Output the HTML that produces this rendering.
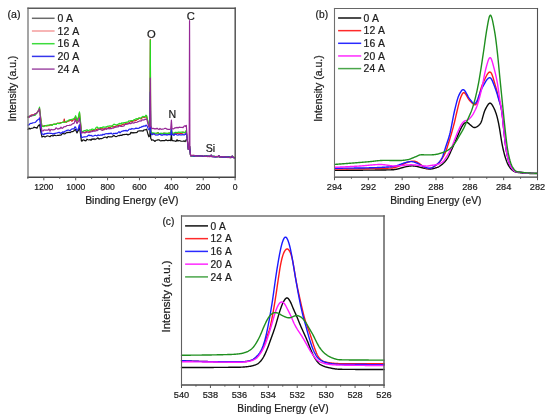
<!DOCTYPE html><html><head><meta charset="utf-8"><style>html,body{margin:0;padding:0;background:#fff}svg{display:block} text{stroke:#1c1c1c;stroke-width:0.22px}</style></head><body>
<svg width="550" height="415" viewBox="0 0 550 415" font-family="'Liberation Sans', Arial, sans-serif" fill="#1c1c1c">
<rect width="550" height="415" fill="#fff"/>
<polyline points="28.00,129.40 29.00,128.01 30.00,129.11 31.00,128.43 32.00,128.25 33.00,128.12 34.00,127.07 35.00,127.63 36.00,127.50 37.00,128.25 38.00,126.10 38.60,125.55 39.00,125.00 39.50,124.60 40.00,126.85 40.60,130.60 41.00,132.66 41.90,136.60 42.00,137.02 43.00,136.41 44.00,136.43 45.00,137.02 46.00,136.48 47.00,135.92 48.00,135.98 49.00,136.22 50.00,136.75 51.00,135.67 52.00,135.60 53.00,136.07 54.00,135.13 55.00,135.31 56.00,135.75 57.00,135.53 58.00,135.22 59.00,135.39 60.00,135.00 61.00,135.16 62.00,133.97 63.00,133.35 64.00,133.92 65.00,133.82 66.00,133.00 67.00,132.42 68.00,132.61 69.00,132.28 70.00,132.63 71.00,132.04 72.00,131.49 73.00,131.60 74.00,130.80 75.00,129.57 75.60,129.50 76.00,130.76 77.00,133.00 78.00,130.88 78.70,130.00 79.00,127.75 79.50,127.00 80.00,130.70 80.50,133.95 81.00,137.84 81.40,140.90 82.00,141.16 83.00,139.76 84.00,140.13 85.00,140.72 86.00,140.78 87.00,139.15 88.00,139.76 89.00,139.99 90.00,139.43 91.00,140.28 92.00,138.89 93.00,139.44 94.00,138.67 95.00,139.64 96.00,138.86 97.00,138.56 98.00,137.81 99.00,139.20 100.00,138.65 101.00,138.51 102.00,138.54 103.00,138.05 104.00,137.46 105.00,137.25 106.00,137.11 107.00,137.95 108.00,136.54 109.00,136.79 110.00,136.77 111.00,136.88 112.00,136.89 113.00,135.93 114.00,135.58 115.00,136.22 116.00,136.62 117.00,136.28 118.00,135.80 119.00,135.46 120.00,135.54 121.00,135.11 122.00,135.39 123.00,134.47 124.00,134.70 125.00,134.39 126.00,134.49 127.00,134.15 128.00,135.01 129.00,134.34 130.00,134.14 131.00,132.36 132.00,132.93 133.00,132.61 134.00,132.93 135.00,132.50 136.00,132.75 137.00,132.42 138.00,131.07 139.00,130.93 140.00,130.73 141.00,130.83 142.00,130.81 143.00,131.17 144.00,129.87 145.00,130.02 146.00,129.47 146.70,129.20 147.00,130.57 148.00,134.31 148.90,136.80 149.00,136.61 149.90,135.80 150.00,127.53 150.30,100.00 150.70,138.30 151.00,138.70 151.70,140.30 152.00,139.99 153.00,139.90 154.00,140.55 155.00,141.46 156.00,140.26 157.00,140.13 158.00,139.87 159.00,139.81 160.00,140.67 161.00,140.83 162.00,140.47 163.00,140.63 164.00,140.55 165.00,140.57 166.00,139.84 167.00,140.34 168.00,140.61 169.00,140.22 170.00,140.37 170.70,140.60 171.00,137.92 171.40,134.70 172.00,140.60 173.00,140.55 174.00,141.00 175.00,140.93 176.00,141.42 177.00,139.73 178.00,141.07 179.00,140.49 180.00,140.78 181.00,141.11 182.00,141.23 183.00,141.23 184.00,140.85 185.00,141.52 185.60,140.80 186.00,140.05 186.30,139.60 187.00,139.63 187.30,140.00 188.00,146.50 188.40,149.50 189.00,147.61 189.20,147.00 189.55,146.00 189.90,150.00 190.00,150.54 190.60,155.60 191.00,155.61 192.00,156.02 193.00,155.55 194.00,155.98 195.00,155.64 196.00,155.61 197.00,155.71 198.00,155.65 199.00,155.99 200.00,156.00 201.00,156.08 202.00,156.22 203.00,156.48 204.00,156.21 205.00,156.23 206.00,156.17 207.00,155.90 208.00,156.48 209.00,155.95 210.00,156.53 210.50,156.40 211.00,155.80 211.20,155.20 211.80,156.40 212.00,156.49 213.00,156.33 214.00,156.47 215.00,156.56 216.00,156.57 217.00,156.61 218.00,156.70 218.70,155.60 219.00,155.72 219.30,156.80 220.00,156.56 221.00,157.12 222.00,157.20 223.00,156.51 224.00,157.03 225.00,157.01 226.00,156.84 227.00,157.24 228.00,157.05 229.00,156.80 230.00,157.18 231.00,157.25 231.50,157.30 232.00,156.24 232.20,156.20 232.80,157.40 233.00,157.18 234.00,157.45 234.60,157.70" fill="none" stroke="#111" stroke-width="1.2" stroke-linejoin="round" stroke-linecap="round"/>
<polyline points="28.00,116.90 29.00,117.26 30.00,116.14 31.00,115.17 32.00,114.85 33.00,114.75 34.00,115.38 35.00,113.84 36.00,113.50 37.00,112.58 38.00,111.17 38.60,110.50 39.00,109.37 39.50,108.50 40.00,112.66 40.60,117.50 41.00,119.74 41.90,126.50 42.00,126.42 43.00,126.29 44.00,125.65 45.00,125.54 46.00,125.92 47.00,125.90 48.00,125.59 49.00,125.59 50.00,125.17 51.00,124.65 52.00,124.81 53.00,124.50 54.00,123.98 55.00,124.15 56.00,124.20 57.00,123.52 58.00,123.05 59.00,123.33 60.00,122.80 61.00,122.55 62.00,122.44 63.00,122.26 63.80,122.20 64.00,120.09 64.30,119.00 64.80,122.00 65.00,121.59 66.00,122.41 67.00,121.76 68.00,121.06 69.00,121.18 70.00,120.18 71.00,120.40 72.00,121.26 73.00,119.82 74.00,120.00 75.00,117.90 75.60,116.70 76.00,118.09 77.00,121.50 78.00,118.74 78.70,117.25 79.00,115.14 79.50,113.00 80.00,118.04 80.50,122.75 81.00,127.40 81.40,132.50 82.00,132.78 83.00,132.00 84.00,132.46 85.00,132.55 86.00,131.70 87.00,131.00 88.00,130.74 89.00,131.14 90.00,131.37 91.00,130.92 92.00,130.86 93.00,130.24 94.00,130.40 95.00,129.87 96.00,129.76 97.00,129.15 98.00,128.84 99.00,129.16 100.00,128.70 101.00,128.59 102.00,129.14 103.00,128.62 104.00,129.80 105.00,128.73 106.00,127.85 107.00,128.30 108.00,127.94 109.00,127.29 110.00,127.92 111.00,126.89 112.00,125.69 113.00,127.25 114.00,126.43 115.00,127.20 116.00,126.06 117.00,125.65 118.00,126.00 119.00,125.19 120.00,125.44 121.00,125.68 122.00,124.76 123.00,124.35 124.00,124.10 125.00,124.11 126.00,123.05 127.00,123.36 128.00,123.02 129.00,123.49 130.00,121.97 131.00,121.38 132.00,121.80 133.00,120.97 134.00,120.95 135.00,120.50 136.00,120.68 137.00,119.52 138.00,119.43 139.00,117.98 140.00,118.39 141.00,119.14 142.00,117.80 143.00,117.45 144.00,116.88 145.00,117.34 146.00,116.82 146.70,116.50 147.00,118.10 148.00,122.23 148.90,126.00 149.00,125.61 149.90,125.00 150.00,103.76 150.30,39.30 150.70,131.30 151.00,131.79 151.70,133.30 152.00,133.18 153.00,133.81 154.00,133.60 155.00,133.96 156.00,133.73 157.00,133.36 158.00,132.54 159.00,133.55 160.00,133.79 161.00,133.52 162.00,133.71 163.00,133.27 164.00,133.32 165.00,133.09 166.00,134.14 167.00,133.61 168.00,133.34 169.00,132.97 170.00,133.52 170.70,133.60 171.00,131.84 171.40,129.00 172.00,133.60 173.00,134.16 174.00,133.88 175.00,133.71 176.00,133.80 177.00,133.44 178.00,133.46 179.00,132.68 180.00,133.63 181.00,132.98 182.00,133.70 183.00,131.79 184.00,132.95 185.00,132.99 185.60,132.50 186.00,132.02 186.30,131.30 187.00,137.65 187.30,140.00 188.00,145.98 188.40,149.50 189.00,148.20 189.20,147.00 189.55,146.00 189.90,150.00 190.00,151.27 190.60,155.60 191.00,155.32 192.00,155.69 193.00,155.45 194.00,155.61 195.00,155.81 196.00,155.94 197.00,155.63 198.00,156.10 199.00,155.56 200.00,156.00 201.00,155.68 202.00,155.79 203.00,156.26 204.00,156.06 205.00,156.01 206.00,156.13 207.00,156.37 208.00,156.29 209.00,156.34 210.00,156.62 210.50,156.40 211.00,155.44 211.20,155.20 211.80,156.40 212.00,156.63 213.00,156.75 214.00,156.50 215.00,156.52 216.00,156.80 217.00,156.56 218.00,156.70 218.70,155.60 219.00,156.04 219.30,156.80 220.00,156.80 221.00,157.26 222.00,157.49 223.00,156.93 224.00,157.00 225.00,156.52 226.00,157.12 227.00,157.11 228.00,156.92 229.00,157.37 230.00,156.89 231.00,157.23 231.50,157.30 232.00,156.23 232.20,156.20 232.80,157.40 233.00,157.12 234.00,157.28 234.60,157.70" fill="none" stroke="#d42828" stroke-width="1.2" stroke-linejoin="round" stroke-linecap="round"/>
<polyline points="28.00,117.20 29.00,116.28 30.00,116.32 31.00,116.03 32.00,115.64 33.00,115.70 34.00,115.12 35.00,115.37 36.00,114.20 37.00,112.97 38.00,111.61 38.60,110.20 39.00,109.18 39.50,107.20 40.00,111.90 40.60,116.70 41.00,120.35 41.90,126.20 42.00,126.42 43.00,126.18 44.00,126.63 45.00,125.80 46.00,125.44 47.00,125.55 48.00,125.06 49.00,125.17 50.00,124.94 51.00,124.91 52.00,125.50 53.00,124.30 54.00,124.34 55.00,124.08 56.00,124.32 57.00,123.33 58.00,123.40 59.00,123.54 60.00,123.40 61.00,123.04 62.00,122.49 63.00,121.98 64.00,122.26 65.00,122.33 66.00,121.49 67.00,121.08 68.00,120.86 69.00,119.89 70.00,119.83 71.00,119.51 72.00,119.42 73.00,118.93 74.00,118.60 75.00,117.29 75.60,115.70 76.00,116.95 77.00,120.50 78.00,118.06 78.70,116.15 79.00,113.85 79.50,111.80 80.00,116.51 80.50,121.65 81.00,127.16 81.40,131.50 82.00,131.32 83.00,131.59 84.00,130.60 85.00,130.62 86.00,130.38 87.00,129.63 88.00,130.79 89.00,130.27 90.00,129.80 91.00,130.14 92.00,128.98 93.00,129.18 94.00,129.80 95.00,129.27 96.00,127.63 97.00,126.93 98.00,127.77 99.00,128.52 100.00,127.63 101.00,127.55 102.00,127.72 103.00,126.85 104.00,127.15 105.00,127.21 106.00,126.87 107.00,126.64 108.00,126.00 109.00,126.30 110.00,125.68 111.00,126.26 112.00,126.64 113.00,124.95 114.00,124.11 115.00,124.70 116.00,124.86 117.00,124.97 118.00,124.30 119.00,123.66 120.00,123.38 121.00,124.02 122.00,122.68 123.00,123.38 124.00,122.50 125.00,122.67 126.00,122.36 127.00,122.11 128.00,121.85 129.00,120.75 130.00,121.05 131.00,120.64 132.00,120.49 133.00,120.62 134.00,119.66 135.00,119.50 136.00,118.85 137.00,118.71 138.00,118.86 139.00,117.83 140.00,118.40 141.00,117.68 142.00,117.12 143.00,116.30 144.00,116.69 145.00,116.56 146.00,115.13 146.70,115.70 147.00,117.76 148.00,121.58 148.90,125.40 149.00,126.39 149.90,124.40 150.00,102.90 150.30,40.00 150.70,131.00 151.00,131.53 151.70,133.00 152.00,133.35 153.00,132.73 154.00,133.11 155.00,132.99 156.00,133.46 157.00,132.95 158.00,132.74 159.00,133.35 160.00,133.76 161.00,133.00 162.00,133.78 163.00,133.30 164.00,132.95 165.00,133.90 166.00,132.86 167.00,133.70 168.00,133.03 169.00,133.48 170.00,132.73 170.70,133.30 171.00,131.51 171.40,128.00 172.00,133.30 173.00,132.98 174.00,133.27 175.00,132.32 176.00,132.33 177.00,132.64 178.00,132.22 179.00,132.16 180.00,132.33 181.00,132.18 182.00,132.02 183.00,132.76 184.00,132.34 185.00,132.32 185.60,131.70 186.00,130.79 186.30,130.50 187.00,136.99 187.30,140.00 188.00,145.78 188.40,149.50 189.00,148.35 189.20,147.00 189.55,146.00 189.90,150.00 190.00,150.44 190.60,155.60 191.00,155.59 192.00,155.85 193.00,156.28 194.00,155.95 195.00,156.31 196.00,155.87 197.00,155.80 198.00,156.21 199.00,156.35 200.00,156.00 201.00,156.06 202.00,155.75 203.00,156.07 204.00,156.35 205.00,156.17 206.00,156.10 207.00,155.95 208.00,156.39 209.00,156.52 210.00,156.52 210.50,156.40 211.00,155.26 211.20,155.20 211.80,156.40 212.00,156.38 213.00,156.62 214.00,156.02 215.00,156.54 216.00,156.57 217.00,156.74 218.00,156.70 218.70,155.60 219.00,155.79 219.30,156.80 220.00,156.87 221.00,156.90 222.00,156.62 223.00,156.58 224.00,157.12 225.00,157.11 226.00,157.07 227.00,156.73 228.00,157.56 229.00,156.54 230.00,157.16 231.00,157.75 231.50,157.30 232.00,156.57 232.20,156.20 232.80,157.40 233.00,157.14 234.00,157.66 234.60,157.70" fill="none" stroke="#22dd22" stroke-width="1.2" stroke-linejoin="round" stroke-linecap="round"/>
<polyline points="28.00,125.00 29.00,124.99 30.00,123.54 31.00,123.45 32.00,123.34 33.00,122.75 34.00,122.74 35.00,122.53 36.00,121.70 37.00,120.51 38.00,119.58 38.60,119.25 39.00,118.97 39.50,117.80 40.00,121.71 40.60,126.00 41.00,128.14 41.90,134.20 42.00,133.73 43.00,134.12 44.00,134.72 45.00,133.49 46.00,133.88 47.00,133.12 48.00,133.53 49.00,133.02 50.00,133.46 51.00,133.30 52.00,133.53 53.00,134.12 54.00,133.46 55.00,133.56 56.00,133.16 57.00,133.01 58.00,132.67 59.00,132.16 60.00,132.90 61.00,133.34 62.00,132.53 63.00,131.78 64.00,132.47 65.00,131.24 66.00,130.86 67.00,130.30 68.00,130.12 69.00,130.15 70.00,130.87 71.00,129.59 72.00,128.92 73.00,128.82 74.00,128.80 75.00,126.90 75.60,127.00 76.00,128.37 77.00,130.70 78.00,129.21 78.70,127.70 79.00,125.81 79.50,124.70 80.00,128.34 80.50,131.00 81.00,134.59 81.40,137.30 82.00,137.47 83.00,137.19 84.00,136.74 85.00,136.93 86.00,136.78 87.00,136.56 88.00,135.62 89.00,134.98 90.00,135.84 91.00,135.33 92.00,136.05 93.00,136.13 94.00,135.80 95.00,135.39 96.00,135.46 97.00,135.82 98.00,134.84 99.00,135.45 100.00,135.23 101.00,134.90 102.00,135.31 103.00,134.20 104.00,134.82 105.00,133.85 106.00,133.80 107.00,133.54 108.00,134.08 109.00,133.33 110.00,133.65 111.00,132.99 112.00,133.85 113.00,134.07 114.00,133.22 115.00,133.72 116.00,133.11 117.00,133.70 118.00,132.60 119.00,131.66 120.00,132.80 121.00,131.84 122.00,131.19 123.00,131.13 124.00,130.46 125.00,130.88 126.00,130.24 127.00,131.15 128.00,130.55 129.00,129.26 130.00,129.10 131.00,129.29 132.00,128.44 133.00,129.02 134.00,128.82 135.00,128.60 136.00,128.09 137.00,128.29 138.00,128.44 139.00,128.21 140.00,127.29 141.00,127.40 142.00,126.41 143.00,126.67 144.00,125.78 145.00,126.28 146.00,125.13 146.70,125.50 147.00,126.08 148.00,128.29 148.90,129.80 149.00,129.46 149.90,128.80 150.00,119.70 150.30,92.00 150.70,132.60 151.00,133.08 151.70,134.60 152.00,134.86 153.00,134.02 154.00,133.65 155.00,134.70 156.00,135.20 157.00,134.76 158.00,135.10 159.00,134.50 160.00,134.12 161.00,135.08 162.00,134.81 163.00,135.09 164.00,134.17 165.00,134.89 166.00,134.54 167.00,135.20 168.00,134.60 169.00,134.60 170.00,134.63 170.70,134.90 171.00,132.51 171.40,129.30 172.00,134.90 173.00,134.39 174.00,135.47 175.00,133.95 176.00,134.34 177.00,134.97 178.00,135.17 179.00,134.52 180.00,134.90 181.00,134.84 182.00,134.90 183.00,134.44 184.00,135.12 185.00,134.42 185.60,134.30 186.00,133.13 186.30,133.10 187.00,137.37 187.30,140.00 188.00,146.28 188.40,149.50 189.00,147.84 189.20,147.00 189.55,146.00 189.90,150.00 190.00,150.31 190.60,155.60 191.00,155.82 192.00,155.50 193.00,155.83 194.00,156.22 195.00,155.99 196.00,155.84 197.00,155.76 198.00,156.06 199.00,155.63 200.00,156.00 201.00,155.90 202.00,155.84 203.00,156.52 204.00,156.20 205.00,155.98 206.00,155.98 207.00,156.39 208.00,156.13 209.00,156.23 210.00,156.37 210.50,156.40 211.00,155.58 211.20,155.20 211.80,156.40 212.00,156.81 213.00,156.10 214.00,157.10 215.00,156.60 216.00,156.90 217.00,156.50 218.00,156.70 218.70,155.60 219.00,156.24 219.30,156.80 220.00,156.99 221.00,156.66 222.00,156.90 223.00,157.13 224.00,157.16 225.00,156.97 226.00,157.03 227.00,157.10 228.00,156.93 229.00,156.92 230.00,157.61 231.00,157.21 231.50,157.30 232.00,156.36 232.20,156.20 232.80,157.40 233.00,157.40 234.00,157.73 234.60,157.70" fill="none" stroke="#2020ee" stroke-width="1.2" stroke-linejoin="round" stroke-linecap="round"/>
<polyline points="28.00,117.00 29.00,117.04 30.00,115.83 31.00,116.36 32.00,115.55 33.00,115.16 34.00,114.72 35.00,113.85 36.00,113.70 37.00,112.86 38.00,111.40 38.60,110.70 39.00,110.76 39.50,108.70 40.00,113.48 40.60,119.70 41.00,123.43 41.90,130.70 42.00,130.83 43.00,130.99 44.00,129.81 45.00,130.20 46.00,130.04 47.00,130.14 48.00,130.24 49.00,128.99 50.00,131.20 51.00,129.28 52.00,129.71 53.00,129.81 54.00,129.71 55.00,129.32 56.00,127.78 57.00,128.48 58.00,129.20 59.00,128.33 60.00,128.60 61.00,127.19 62.00,128.43 63.00,127.74 64.00,126.73 65.00,126.70 66.00,126.34 67.00,125.51 68.00,125.52 69.00,125.39 70.00,125.15 71.00,125.10 72.00,124.17 73.00,123.58 74.00,123.40 75.00,120.69 75.60,119.50 76.00,121.17 77.00,123.50 78.00,121.95 78.70,120.75 79.00,119.23 79.50,118.00 80.00,122.01 80.50,125.60 81.00,130.01 81.40,133.20 82.00,132.11 83.00,132.81 84.00,132.36 85.00,132.99 86.00,132.55 87.00,132.02 88.00,132.11 89.00,132.53 90.00,132.26 91.00,131.75 92.00,131.61 93.00,131.12 94.00,131.01 95.00,131.17 96.00,130.68 97.00,130.70 98.00,129.89 99.00,129.48 100.00,129.29 101.00,129.69 102.00,130.32 103.00,130.08 104.00,128.93 105.00,128.51 106.00,129.40 107.00,129.08 108.00,128.09 109.00,129.01 110.00,128.44 111.00,128.79 112.00,128.18 113.00,128.25 114.00,127.83 115.00,127.09 116.00,127.24 117.00,126.87 118.00,127.00 119.00,126.28 120.00,125.76 121.00,126.48 122.00,126.42 123.00,126.27 124.00,125.84 125.00,124.39 126.00,124.48 127.00,124.27 128.00,124.23 129.00,122.99 130.00,123.68 131.00,123.54 132.00,122.71 133.00,122.91 134.00,123.12 135.00,122.30 136.00,122.50 137.00,122.20 138.00,121.64 139.00,121.35 140.00,120.73 141.00,121.17 142.00,120.12 143.00,119.73 144.00,120.08 145.00,119.16 146.00,119.39 146.70,119.00 147.00,120.13 148.00,123.78 148.90,127.00 149.00,127.24 149.90,126.00 150.00,113.42 150.30,78.00 150.70,126.60 151.00,126.27 151.70,128.60 152.00,128.62 153.00,128.19 154.00,128.85 155.00,128.69 156.00,128.90 157.00,128.17 158.00,128.99 159.00,129.61 160.00,128.38 161.00,129.35 162.00,129.21 163.00,129.08 164.00,128.77 165.00,128.30 166.00,128.44 167.00,129.20 168.00,129.31 169.00,129.43 170.00,129.33 170.70,128.90 171.00,124.99 171.40,120.20 172.00,128.90 173.00,128.96 174.00,128.60 175.00,127.70 176.00,127.97 177.00,127.36 178.00,127.92 179.00,127.20 180.00,127.42 181.00,127.47 182.00,127.21 183.00,127.59 184.00,126.30 185.00,125.63 185.60,126.50 186.00,126.46 186.30,125.30 187.00,135.73 187.30,140.00 188.00,146.11 188.40,149.50 189.00,147.38 189.20,147.00 189.55,20.50 189.90,150.00 190.00,150.12 190.60,155.60 191.00,155.87 192.00,155.53 193.00,155.45 194.00,155.45 195.00,155.63 196.00,156.18 197.00,155.97 198.00,156.04 199.00,155.85 200.00,156.00 201.00,156.07 202.00,155.88 203.00,156.02 204.00,156.21 205.00,156.46 206.00,156.22 207.00,156.39 208.00,156.77 209.00,156.17 210.00,156.11 210.50,156.40 211.00,155.65 211.20,155.20 211.80,156.40 212.00,156.34 213.00,156.58 214.00,156.44 215.00,156.74 216.00,156.35 217.00,156.48 218.00,156.70 218.70,155.60 219.00,156.36 219.30,156.80 220.00,156.71 221.00,156.93 222.00,156.80 223.00,156.61 224.00,156.75 225.00,156.86 226.00,156.98 227.00,157.15 228.00,157.37 229.00,157.33 230.00,157.65 231.00,157.58 231.50,157.30 232.00,156.90 232.20,156.20 232.80,157.40 233.00,157.51 234.00,157.86 234.60,157.70" fill="none" stroke="#962896" stroke-width="1.2" stroke-linejoin="round" stroke-linecap="round"/>
<line x1="27.4" y1="8.25" x2="235.95" y2="8.25" stroke="#5a5a5a" stroke-width="1.6"/>
<line x1="27.4" y1="177.3" x2="235.95" y2="177.3" stroke="#444" stroke-width="1.4"/>
<line x1="28.0" y1="7.45" x2="28.0" y2="178.0" stroke="#696969" stroke-width="1.2"/>
<line x1="235.2" y1="7.45" x2="235.2" y2="178.0" stroke="#555" stroke-width="1.5"/>
<line x1="235.10" y1="177.3" x2="235.10" y2="180.3" stroke="#555" stroke-width="1"/>
<text x="235.10" y="189.6" font-size="8.6" text-anchor="middle" >0</text>
<line x1="219.16" y1="177.3" x2="219.16" y2="178.9" stroke="#555" stroke-width="1"/>
<line x1="203.22" y1="177.3" x2="203.22" y2="180.3" stroke="#555" stroke-width="1"/>
<text x="203.22" y="189.6" font-size="8.6" text-anchor="middle" >200</text>
<line x1="187.28" y1="177.3" x2="187.28" y2="178.9" stroke="#555" stroke-width="1"/>
<line x1="171.34" y1="177.3" x2="171.34" y2="180.3" stroke="#555" stroke-width="1"/>
<text x="171.34" y="189.6" font-size="8.6" text-anchor="middle" >400</text>
<line x1="155.40" y1="177.3" x2="155.40" y2="178.9" stroke="#555" stroke-width="1"/>
<line x1="139.46" y1="177.3" x2="139.46" y2="180.3" stroke="#555" stroke-width="1"/>
<text x="139.46" y="189.6" font-size="8.6" text-anchor="middle" >600</text>
<line x1="123.52" y1="177.3" x2="123.52" y2="178.9" stroke="#555" stroke-width="1"/>
<line x1="107.58" y1="177.3" x2="107.58" y2="180.3" stroke="#555" stroke-width="1"/>
<text x="107.58" y="189.6" font-size="8.6" text-anchor="middle" >800</text>
<line x1="91.64" y1="177.3" x2="91.64" y2="178.9" stroke="#555" stroke-width="1"/>
<line x1="75.70" y1="177.3" x2="75.70" y2="180.3" stroke="#555" stroke-width="1"/>
<text x="75.70" y="189.6" font-size="8.6" text-anchor="middle" >1000</text>
<line x1="59.76" y1="177.3" x2="59.76" y2="178.9" stroke="#555" stroke-width="1"/>
<line x1="43.82" y1="177.3" x2="43.82" y2="180.3" stroke="#555" stroke-width="1"/>
<text x="43.82" y="189.6" font-size="8.6" text-anchor="middle" >1200</text>
<line x1="27.88" y1="177.3" x2="27.88" y2="178.9" stroke="#555" stroke-width="1"/>
<line x1="31.9" y1="18.30" x2="54.6" y2="18.30" stroke="#6a6a6a" stroke-width="1.5"/>
<text x="57.4" y="21.90" font-size="10.5" text-anchor="start" letter-spacing="0.25">0 A</text>
<line x1="31.9" y1="31.00" x2="54.6" y2="31.00" stroke="#f49c9c" stroke-width="1.5"/>
<text x="57.4" y="34.60" font-size="10.5" text-anchor="start" letter-spacing="0.25">12 A</text>
<line x1="31.9" y1="43.70" x2="54.6" y2="43.70" stroke="#3ddc3d" stroke-width="1.5"/>
<text x="57.4" y="47.30" font-size="10.5" text-anchor="start" letter-spacing="0.25">16 A</text>
<line x1="31.9" y1="56.40" x2="54.6" y2="56.40" stroke="#3535ec" stroke-width="1.5"/>
<text x="57.4" y="60.00" font-size="10.5" text-anchor="start" letter-spacing="0.25">20 A</text>
<line x1="31.9" y1="69.10" x2="54.6" y2="69.10" stroke="#a04ca6" stroke-width="1.5"/>
<text x="57.4" y="72.70" font-size="10.5" text-anchor="start" letter-spacing="0.25">24 A</text>
<text x="7.5" y="18.1" font-size="10.6" text-anchor="start" >(a)</text>
<text x="151.35" y="38.4" font-size="11.2" text-anchor="middle" >O</text>
<text x="190.7" y="19.8" font-size="11.2" text-anchor="middle" >C</text>
<text x="172.35" y="117.7" font-size="10.6" text-anchor="middle" >N</text>
<text x="210.5" y="152.3" font-size="10.6" text-anchor="middle" >Si</text>
<text x="131.85" y="203.9" font-size="10.45" text-anchor="middle" >Binding Energy (eV)</text>
<text x="0" y="0" font-size="10.4" text-anchor="middle" transform="translate(15.6,88.6) rotate(-90)">Intensity (a.u.)</text>
<polyline points="334.60,170.40 335.10,170.40 335.60,170.39 336.10,170.39 336.60,170.39 337.10,170.38 337.60,170.38 338.10,170.38 338.60,170.38 339.10,170.37 339.60,170.37 340.10,170.37 340.60,170.36 341.10,170.36 341.60,170.35 342.10,170.35 342.60,170.35 343.10,170.34 343.60,170.34 344.10,170.34 344.60,170.33 345.10,170.33 345.60,170.33 346.10,170.32 346.60,170.32 347.10,170.31 347.60,170.31 348.10,170.31 348.60,170.30 349.10,170.30 349.60,170.29 350.10,170.29 350.60,170.28 351.10,170.28 351.60,170.28 352.10,170.27 352.60,170.27 353.10,170.26 353.60,170.26 354.10,170.25 354.60,170.25 355.10,170.25 355.60,170.24 356.10,170.24 356.60,170.23 357.10,170.23 357.60,170.22 358.10,170.22 358.60,170.21 359.10,170.21 359.60,170.20 360.10,170.20 360.60,170.19 361.10,170.19 361.60,170.19 362.10,170.18 362.60,170.18 363.10,170.17 363.60,170.17 364.10,170.16 364.60,170.16 365.10,170.16 365.60,170.15 366.10,170.15 366.60,170.14 367.10,170.14 367.60,170.14 368.10,170.13 368.60,170.13 369.10,170.12 369.60,170.12 370.10,170.12 370.60,170.11 371.10,170.11 371.60,170.10 372.10,170.10 372.60,170.09 373.10,170.09 373.60,170.09 374.10,170.08 374.60,170.08 375.10,170.07 375.60,170.07 376.10,170.06 376.60,170.06 377.10,170.05 377.60,170.05 378.10,170.04 378.60,170.03 379.10,170.03 379.60,170.02 380.10,170.02 380.60,170.01 381.10,170.00 381.60,170.00 382.10,169.99 382.60,169.98 383.10,169.98 383.60,169.97 384.10,169.96 384.60,169.95 385.10,169.94 385.60,169.93 386.10,169.93 386.60,169.92 387.10,169.91 387.60,169.90 388.10,169.89 388.60,169.88 389.10,169.87 389.60,169.86 390.10,169.85 390.60,169.83 391.10,169.82 391.60,169.81 392.10,169.79 392.60,169.77 393.10,169.73 393.60,169.69 394.10,169.63 394.60,169.56 395.10,169.49 395.60,169.40 396.10,169.30 396.60,169.20 397.10,169.09 397.60,168.98 398.10,168.86 398.60,168.73 399.10,168.60 399.60,168.46 400.10,168.33 400.60,168.19 401.10,168.04 401.60,167.90 402.10,167.76 402.60,167.62 403.10,167.48 403.60,167.34 404.10,167.20 404.60,167.07 405.10,166.94 405.60,166.81 406.10,166.69 406.60,166.58 407.10,166.47 407.60,166.37 408.10,166.28 408.60,166.19 409.10,166.12 409.60,166.06 410.10,166.00 410.60,165.96 411.10,165.93 411.60,165.91 412.10,165.91 412.60,165.92 413.10,165.94 413.60,165.98 414.10,166.02 414.60,166.08 415.10,166.15 415.60,166.23 416.10,166.31 416.60,166.41 417.10,166.51 417.60,166.62 418.10,166.73 418.60,166.85 419.10,166.97 419.60,167.09 420.10,167.22 420.60,167.35 421.10,167.48 421.60,167.60 422.10,167.73 422.60,167.86 423.10,167.98 423.60,168.10 424.10,168.22 424.60,168.33 425.10,168.43 425.60,168.53 426.10,168.62 426.60,168.70 427.10,168.78 427.60,168.84 428.10,168.90 428.60,168.94 429.10,168.97 429.60,168.98 430.10,168.99 430.60,168.97 431.10,168.93 431.60,168.88 432.10,168.81 432.60,168.72 433.10,168.62 433.60,168.50 434.10,168.37 434.60,168.24 435.10,168.09 435.60,167.94 436.10,167.79 436.60,167.62 437.10,167.45 437.60,167.26 438.10,167.04 438.60,166.79 439.10,166.51 439.60,166.21 440.10,165.89 440.60,165.54 441.10,165.18 441.60,164.80 442.10,164.41 442.60,164.00 443.10,163.56 443.60,163.10 444.10,162.60 444.60,162.06 445.10,161.49 445.60,160.89 446.10,160.25 446.60,159.57 447.10,158.86 447.60,158.09 448.10,157.24 448.60,156.31 449.10,155.30 449.60,154.23 450.10,153.12 450.60,151.98 451.10,150.84 451.60,149.70 452.10,148.59 452.60,147.49 453.10,146.38 453.60,145.27 454.10,144.16 454.60,143.04 455.10,141.91 455.60,140.77 456.10,139.63 456.60,138.48 457.10,137.30 457.60,136.10 458.10,134.87 458.60,133.64 459.10,132.43 459.60,131.26 460.10,130.17 460.60,129.13 461.10,128.15 461.60,127.19 462.10,126.28 462.60,125.43 463.10,124.69 463.60,124.07 464.10,123.57 464.60,123.17 465.10,122.83 465.60,122.56 466.10,122.38 466.60,122.31 467.10,122.38 467.60,122.60 468.10,122.94 468.60,123.36 469.10,123.82 469.60,124.28 470.10,124.70 470.60,125.11 471.10,125.52 471.60,125.94 472.10,126.35 472.60,126.73 473.10,127.06 473.60,127.31 474.10,127.47 474.60,127.53 475.10,127.49 475.60,127.38 476.10,127.20 476.60,126.95 477.10,126.65 477.60,126.30 478.10,125.90 478.60,125.46 479.10,124.99 479.60,124.47 480.10,123.89 480.60,123.17 481.10,122.20 481.60,120.93 482.10,119.39 482.60,117.67 483.10,115.88 483.60,114.12 484.10,112.50 484.60,111.10 485.10,109.91 485.60,108.87 486.10,107.90 486.60,106.98 487.10,106.10 487.60,105.28 488.10,104.56 488.60,103.96 489.10,103.49 489.60,103.19 490.10,103.08 490.60,103.22 491.10,103.60 491.60,104.18 492.10,104.90 492.60,105.70 493.10,106.54 493.60,107.46 494.10,108.47 494.60,109.59 495.10,110.80 495.60,112.13 496.10,113.56 496.60,115.14 497.10,116.90 497.60,118.89 498.10,121.09 498.60,123.47 499.10,126.02 499.60,128.78 500.10,131.80 500.60,135.03 501.10,138.30 501.60,141.39 502.10,144.18 502.60,146.68 503.10,148.98 503.60,151.12 504.10,153.13 504.60,154.99 505.10,156.72 505.60,158.32 506.10,159.81 506.60,161.19 507.10,162.48 507.60,163.64 508.10,164.68 508.60,165.60 509.10,166.42 509.60,167.17 510.10,167.85 510.60,168.47 511.10,169.02 511.60,169.52 512.10,169.96 512.60,170.36 513.10,170.74 513.60,171.09 514.10,171.41 514.60,171.68 515.10,171.91 515.60,172.07 516.10,172.19 516.60,172.28 517.10,172.35 517.60,172.42 518.10,172.49 518.60,172.55 519.10,172.61 519.60,172.67 520.10,172.72 520.60,172.78 521.10,172.83 521.60,172.88 522.10,172.93 522.60,172.98 523.10,173.02 523.60,173.07 524.10,173.11 524.60,173.15 525.10,173.19 525.60,173.22 526.10,173.26 526.60,173.29 527.10,173.32 527.60,173.35 528.10,173.37 528.60,173.40 529.10,173.42 529.60,173.45 530.10,173.47 530.60,173.49 531.10,173.50 531.60,173.52 532.10,173.53 532.60,173.55 533.10,173.56 533.60,173.57 534.10,173.58 534.60,173.58 535.10,173.59 535.60,173.59 536.10,173.60 536.60,173.60 537.00,173.60" fill="none" stroke="#0a0a0a" stroke-width="1.4" stroke-linejoin="round" stroke-linecap="round"/>
<polyline points="334.60,169.00 335.10,169.00 335.60,169.00 336.10,169.00 336.60,169.00 337.10,169.00 337.60,169.00 338.10,168.99 338.60,168.99 339.10,168.99 339.60,168.99 340.10,168.99 340.60,168.98 341.10,168.98 341.60,168.98 342.10,168.98 342.60,168.97 343.10,168.97 343.60,168.97 344.10,168.96 344.60,168.96 345.10,168.95 345.60,168.95 346.10,168.95 346.60,168.94 347.10,168.94 347.60,168.93 348.10,168.93 348.60,168.92 349.10,168.92 349.60,168.91 350.10,168.91 350.60,168.90 351.10,168.90 351.60,168.89 352.10,168.89 352.60,168.88 353.10,168.88 353.60,168.87 354.10,168.87 354.60,168.86 355.10,168.86 355.60,168.85 356.10,168.85 356.60,168.84 357.10,168.83 357.60,168.83 358.10,168.82 358.60,168.82 359.10,168.81 359.60,168.80 360.10,168.80 360.60,168.79 361.10,168.79 361.60,168.78 362.10,168.77 362.60,168.77 363.10,168.76 363.60,168.76 364.10,168.75 364.60,168.74 365.10,168.74 365.60,168.73 366.10,168.72 366.60,168.72 367.10,168.71 367.60,168.70 368.10,168.69 368.60,168.69 369.10,168.68 369.60,168.67 370.10,168.66 370.60,168.65 371.10,168.65 371.60,168.64 372.10,168.63 372.60,168.62 373.10,168.61 373.60,168.60 374.10,168.59 374.60,168.58 375.10,168.57 375.60,168.56 376.10,168.55 376.60,168.54 377.10,168.52 377.60,168.51 378.10,168.50 378.60,168.49 379.10,168.47 379.60,168.46 380.10,168.45 380.60,168.43 381.10,168.42 381.60,168.40 382.10,168.39 382.60,168.37 383.10,168.36 383.60,168.34 384.10,168.32 384.60,168.31 385.10,168.29 385.60,168.27 386.10,168.25 386.60,168.23 387.10,168.22 387.60,168.20 388.10,168.18 388.60,168.15 389.10,168.13 389.60,168.11 390.10,168.09 390.60,168.07 391.10,168.04 391.60,168.02 392.10,167.99 392.60,167.94 393.10,167.89 393.60,167.81 394.10,167.72 394.60,167.61 395.10,167.49 395.60,167.35 396.10,167.20 396.60,167.04 397.10,166.87 397.60,166.68 398.10,166.49 398.60,166.29 399.10,166.08 399.60,165.86 400.10,165.64 400.60,165.42 401.10,165.19 401.60,164.96 402.10,164.72 402.60,164.49 403.10,164.25 403.60,164.02 404.10,163.79 404.60,163.57 405.10,163.34 405.60,163.12 406.10,162.91 406.60,162.71 407.10,162.51 407.60,162.32 408.10,162.15 408.60,161.98 409.10,161.82 409.60,161.68 410.10,161.55 410.60,161.44 411.10,161.34 411.60,161.26 412.10,161.19 412.60,161.15 413.10,161.12 413.60,161.13 414.10,161.17 414.60,161.24 415.10,161.36 415.60,161.52 416.10,161.71 416.60,161.94 417.10,162.19 417.60,162.47 418.10,162.78 418.60,163.10 419.10,163.44 419.60,163.79 420.10,164.15 420.60,164.52 421.10,164.89 421.60,165.26 422.10,165.62 422.60,165.98 423.10,166.33 423.60,166.67 424.10,166.98 424.60,167.28 425.10,167.56 425.60,167.81 426.10,168.03 426.60,168.21 427.10,168.36 427.60,168.47 428.10,168.54 428.60,168.57 429.10,168.55 429.60,168.49 430.10,168.39 430.60,168.25 431.10,168.08 431.60,167.88 432.10,167.65 432.60,167.40 433.10,167.12 433.60,166.83 434.10,166.51 434.60,166.19 435.10,165.85 435.60,165.50 436.10,165.15 436.60,164.78 437.10,164.41 437.60,164.01 438.10,163.57 438.60,163.09 439.10,162.57 439.60,162.00 440.10,161.40 440.60,160.75 441.10,160.07 441.60,159.35 442.10,158.59 442.60,157.80 443.10,156.97 443.60,156.11 444.10,155.20 444.60,154.23 445.10,153.16 445.60,151.96 446.10,150.65 446.60,149.22 447.10,147.72 447.60,146.15 448.10,144.55 448.60,142.92 449.10,141.30 449.60,139.67 450.10,138.04 450.60,136.38 451.10,134.69 451.60,132.97 452.10,131.20 452.60,129.40 453.10,127.56 453.60,125.67 454.10,123.73 454.60,121.71 455.10,119.60 455.60,117.41 456.10,115.20 456.60,113.01 457.10,110.87 457.60,108.77 458.10,106.69 458.60,104.64 459.10,102.68 459.60,100.87 460.10,99.26 460.60,97.83 461.10,96.54 461.60,95.36 462.10,94.30 462.60,93.45 463.10,92.88 463.60,92.64 464.10,92.69 464.60,93.00 465.10,93.49 465.60,94.14 466.10,94.90 466.60,95.73 467.10,96.61 467.60,97.50 468.10,98.35 468.60,99.14 469.10,99.84 469.60,100.46 470.10,101.01 470.60,101.55 471.10,102.08 471.60,102.60 472.10,103.10 472.60,103.56 473.10,103.98 473.60,104.34 474.10,104.62 474.60,104.80 475.10,104.85 475.60,104.67 476.10,104.19 476.60,103.37 477.10,102.24 477.60,100.85 478.10,99.25 478.60,97.49 479.10,95.63 479.60,93.72 480.10,91.82 480.60,89.98 481.10,88.26 481.60,86.70 482.10,85.33 482.60,84.11 483.10,82.98 483.60,81.86 484.10,80.74 484.60,79.63 485.10,78.54 485.60,77.47 486.10,76.46 486.60,75.51 487.10,74.65 487.60,73.87 488.10,73.20 488.60,72.66 489.10,72.26 489.60,72.03 490.10,72.01 490.60,72.26 491.10,72.84 491.60,73.72 492.10,74.88 492.60,76.26 493.10,77.81 493.60,79.47 494.10,81.20 494.60,82.93 495.10,84.65 495.60,86.36 496.10,88.12 496.60,89.97 497.10,91.90 497.60,93.91 498.10,95.94 498.60,97.95 499.10,99.90 499.60,101.76 500.10,103.57 500.60,105.44 501.10,107.57 501.60,110.21 502.10,113.66 502.60,118.02 503.10,122.99 503.60,128.07 504.10,132.92 504.60,137.49 505.10,141.81 505.60,145.78 506.10,149.25 506.60,152.19 507.10,154.70 507.60,156.93 508.10,158.96 508.60,160.79 509.10,162.43 509.60,163.87 510.10,165.09 510.60,166.12 511.10,167.00 511.60,167.78 512.10,168.50 512.60,169.17 513.10,169.76 513.60,170.28 514.10,170.72 514.60,171.06 515.10,171.32 515.60,171.49 516.10,171.61 516.60,171.71 517.10,171.80 517.60,171.89 518.10,171.97 518.60,172.06 519.10,172.14 519.60,172.21 520.10,172.29 520.60,172.36 521.10,172.43 521.60,172.49 522.10,172.56 522.60,172.62 523.10,172.67 523.60,172.73 524.10,172.78 524.60,172.83 525.10,172.88 525.60,172.93 526.10,172.97 526.60,173.01 527.10,173.05 527.60,173.09 528.10,173.12 528.60,173.15 529.10,173.18 529.60,173.21 530.10,173.24 530.60,173.26 531.10,173.28 531.60,173.30 532.10,173.32 532.60,173.33 533.10,173.35 533.60,173.36 534.10,173.37 534.60,173.38 535.10,173.39 535.60,173.39 536.10,173.40 536.60,173.40 537.00,173.40" fill="none" stroke="#ff1a1a" stroke-width="1.4" stroke-linejoin="round" stroke-linecap="round"/>
<polyline points="334.60,168.20 335.10,168.20 335.60,168.20 336.10,168.20 336.60,168.20 337.10,168.20 337.60,168.20 338.10,168.19 338.60,168.19 339.10,168.19 339.60,168.19 340.10,168.19 340.60,168.19 341.10,168.18 341.60,168.18 342.10,168.18 342.60,168.18 343.10,168.17 343.60,168.17 344.10,168.17 344.60,168.16 345.10,168.16 345.60,168.15 346.10,168.15 346.60,168.15 347.10,168.14 347.60,168.14 348.10,168.13 348.60,168.13 349.10,168.12 349.60,168.12 350.10,168.11 350.60,168.11 351.10,168.10 351.60,168.10 352.10,168.09 352.60,168.09 353.10,168.08 353.60,168.08 354.10,168.07 354.60,168.07 355.10,168.06 355.60,168.05 356.10,168.05 356.60,168.04 357.10,168.04 357.60,168.03 358.10,168.02 358.60,168.02 359.10,168.01 359.60,168.01 360.10,168.00 360.60,167.99 361.10,167.98 361.60,167.98 362.10,167.97 362.60,167.96 363.10,167.95 363.60,167.94 364.10,167.94 364.60,167.93 365.10,167.92 365.60,167.91 366.10,167.90 366.60,167.88 367.10,167.87 367.60,167.86 368.10,167.85 368.60,167.84 369.10,167.82 369.60,167.81 370.10,167.80 370.60,167.78 371.10,167.77 371.60,167.75 372.10,167.74 372.60,167.72 373.10,167.70 373.60,167.69 374.10,167.67 374.60,167.65 375.10,167.63 375.60,167.61 376.10,167.60 376.60,167.58 377.10,167.55 377.60,167.53 378.10,167.51 378.60,167.49 379.10,167.47 379.60,167.45 380.10,167.42 380.60,167.40 381.10,167.37 381.60,167.35 382.10,167.32 382.60,167.30 383.10,167.27 383.60,167.24 384.10,167.22 384.60,167.19 385.10,167.16 385.60,167.13 386.10,167.10 386.60,167.07 387.10,167.04 387.60,167.01 388.10,166.97 388.60,166.94 389.10,166.91 389.60,166.87 390.10,166.84 390.60,166.80 391.10,166.77 391.60,166.73 392.10,166.68 392.60,166.63 393.10,166.57 393.60,166.49 394.10,166.39 394.60,166.29 395.10,166.17 395.60,166.04 396.10,165.90 396.60,165.75 397.10,165.59 397.60,165.43 398.10,165.26 398.60,165.08 399.10,164.90 399.60,164.71 400.10,164.52 400.60,164.33 401.10,164.14 401.60,163.95 402.10,163.76 402.60,163.58 403.10,163.39 403.60,163.21 404.10,163.03 404.60,162.87 405.10,162.70 405.60,162.55 406.10,162.40 406.60,162.26 407.10,162.14 407.60,162.02 408.10,161.92 408.60,161.83 409.10,161.75 409.60,161.69 410.10,161.65 410.60,161.62 411.10,161.62 411.60,161.63 412.10,161.67 412.60,161.74 413.10,161.83 413.60,161.94 414.10,162.08 414.60,162.23 415.10,162.40 415.60,162.59 416.10,162.79 416.60,163.01 417.10,163.23 417.60,163.47 418.10,163.72 418.60,163.97 419.10,164.23 419.60,164.50 420.10,164.76 420.60,165.03 421.10,165.30 421.60,165.56 422.10,165.82 422.60,166.08 423.10,166.33 423.60,166.57 424.10,166.80 424.60,167.02 425.10,167.23 425.60,167.43 426.10,167.60 426.60,167.76 427.10,167.91 427.60,168.03 428.10,168.13 428.60,168.20 429.10,168.25 429.60,168.27 430.10,168.25 430.60,168.17 431.10,168.04 431.60,167.86 432.10,167.63 432.60,167.36 433.10,167.06 433.60,166.74 434.10,166.39 434.60,166.03 435.10,165.66 435.60,165.29 436.10,164.92 436.60,164.54 437.10,164.13 437.60,163.70 438.10,163.24 438.60,162.74 439.10,162.20 439.60,161.62 440.10,160.99 440.60,160.31 441.10,159.56 441.60,158.71 442.10,157.71 442.60,156.52 443.10,155.17 443.60,153.69 444.10,152.12 444.60,150.50 445.10,148.87 445.60,147.28 446.10,145.74 446.60,144.25 447.10,142.79 447.60,141.31 448.10,139.81 448.60,138.23 449.10,136.55 449.60,134.73 450.10,132.73 450.60,130.52 451.10,128.12 451.60,125.58 452.10,122.96 452.60,120.30 453.10,117.68 453.60,115.15 454.10,112.75 454.60,110.51 455.10,108.39 455.60,106.33 456.10,104.32 456.60,102.38 457.10,100.54 457.60,98.85 458.10,97.33 458.60,96.02 459.10,94.88 459.60,93.87 460.10,92.93 460.60,92.06 461.10,91.27 461.60,90.61 462.10,90.10 462.60,89.78 463.10,89.67 463.60,89.77 464.10,90.08 464.60,90.57 465.10,91.22 465.60,91.98 466.10,92.84 466.60,93.75 467.10,94.70 467.60,95.64 468.10,96.56 468.60,97.41 469.10,98.18 469.60,98.87 470.10,99.52 470.60,100.16 471.10,100.80 471.60,101.43 472.10,102.03 472.60,102.57 473.10,103.03 473.60,103.38 474.10,103.60 474.60,103.64 475.10,103.47 475.60,103.07 476.10,102.43 476.60,101.60 477.10,100.58 477.60,99.43 478.10,98.17 478.60,96.82 479.10,95.44 479.60,94.04 480.10,92.65 480.60,91.32 481.10,90.07 481.60,88.93 482.10,87.91 482.60,86.99 483.10,86.11 483.60,85.23 484.10,84.35 484.60,83.46 485.10,82.59 485.60,81.74 486.10,80.94 486.60,80.19 487.10,79.50 487.60,78.91 488.10,78.40 488.60,78.02 489.10,77.75 489.60,77.65 490.10,77.73 490.60,78.05 491.10,78.60 491.60,79.36 492.10,80.31 492.60,81.41 493.10,82.62 493.60,83.91 494.10,85.25 494.60,86.60 495.10,87.95 495.60,89.31 496.10,90.72 496.60,92.23 497.10,93.83 497.60,95.50 498.10,97.21 498.60,98.93 499.10,100.61 499.60,102.24 500.10,103.88 500.60,105.64 501.10,107.69 501.60,110.25 502.10,113.64 502.60,117.97 503.10,122.95 503.60,128.04 504.10,132.91 504.60,137.49 505.10,141.81 505.60,145.78 506.10,149.25 506.60,152.19 507.10,154.70 507.60,156.93 508.10,158.96 508.60,160.79 509.10,162.43 509.60,163.87 510.10,165.09 510.60,166.12 511.10,167.00 511.60,167.78 512.10,168.50 512.60,169.17 513.10,169.76 513.60,170.28 514.10,170.72 514.60,171.06 515.10,171.32 515.60,171.49 516.10,171.61 516.60,171.71 517.10,171.80 517.60,171.89 518.10,171.97 518.60,172.06 519.10,172.14 519.60,172.21 520.10,172.29 520.60,172.36 521.10,172.43 521.60,172.49 522.10,172.56 522.60,172.62 523.10,172.67 523.60,172.73 524.10,172.78 524.60,172.83 525.10,172.88 525.60,172.93 526.10,172.97 526.60,173.01 527.10,173.05 527.60,173.09 528.10,173.12 528.60,173.15 529.10,173.18 529.60,173.21 530.10,173.24 530.60,173.26 531.10,173.28 531.60,173.30 532.10,173.32 532.60,173.33 533.10,173.35 533.60,173.36 534.10,173.37 534.60,173.38 535.10,173.39 535.60,173.39 536.10,173.40 536.60,173.40 537.00,173.40" fill="none" stroke="#1a1aff" stroke-width="1.4" stroke-linejoin="round" stroke-linecap="round"/>
<polyline points="334.60,167.29 335.10,167.28 335.60,167.26 336.10,167.24 336.60,167.22 337.10,167.20 337.60,167.18 338.10,167.16 338.60,167.13 339.10,167.11 339.60,167.09 340.10,167.07 340.60,167.05 341.10,167.02 341.60,167.00 342.10,166.98 342.60,166.95 343.10,166.93 343.60,166.90 344.10,166.88 344.60,166.86 345.10,166.83 345.60,166.81 346.10,166.78 346.60,166.75 347.10,166.73 347.60,166.70 348.10,166.68 348.60,166.65 349.10,166.62 349.60,166.60 350.10,166.57 350.60,166.54 351.10,166.52 351.60,166.49 352.10,166.46 352.60,166.43 353.10,166.40 353.60,166.38 354.10,166.35 354.60,166.32 355.10,166.29 355.60,166.26 356.10,166.23 356.60,166.20 357.10,166.17 357.60,166.14 358.10,166.11 358.60,166.08 359.10,166.05 359.60,166.02 360.10,165.99 360.60,165.96 361.10,165.93 361.60,165.89 362.10,165.85 362.60,165.81 363.10,165.77 363.60,165.73 364.10,165.68 364.60,165.64 365.10,165.59 365.60,165.55 366.10,165.50 366.60,165.45 367.10,165.40 367.60,165.35 368.10,165.30 368.60,165.25 369.10,165.21 369.60,165.16 370.10,165.11 370.60,165.06 371.10,165.02 371.60,164.97 372.10,164.93 372.60,164.88 373.10,164.84 373.60,164.80 374.10,164.77 374.60,164.73 375.10,164.70 375.60,164.66 376.10,164.63 376.60,164.61 377.10,164.58 377.60,164.56 378.10,164.54 378.60,164.53 379.10,164.52 379.60,164.51 380.10,164.50 380.60,164.51 381.10,164.51 381.60,164.53 382.10,164.56 382.60,164.59 383.10,164.63 383.60,164.68 384.10,164.74 384.60,164.80 385.10,164.86 385.60,164.93 386.10,165.00 386.60,165.07 387.10,165.15 387.60,165.23 388.10,165.30 388.60,165.38 389.10,165.46 389.60,165.53 390.10,165.60 390.60,165.67 391.10,165.73 391.60,165.79 392.10,165.84 392.60,165.89 393.10,165.92 393.60,165.95 394.10,165.98 394.60,165.99 395.10,165.99 395.60,165.99 396.10,165.98 396.60,165.96 397.10,165.94 397.60,165.91 398.10,165.88 398.60,165.84 399.10,165.80 399.60,165.76 400.10,165.71 400.60,165.66 401.10,165.61 401.60,165.56 402.10,165.50 402.60,165.44 403.10,165.39 403.60,165.33 404.10,165.28 404.60,165.22 405.10,165.17 405.60,165.12 406.10,165.07 406.60,165.02 407.10,164.98 407.60,164.94 408.10,164.91 408.60,164.88 409.10,164.85 409.60,164.83 410.10,164.82 410.60,164.81 411.10,164.81 411.60,164.81 412.10,164.82 412.60,164.84 413.10,164.87 413.60,164.90 414.10,164.93 414.60,164.97 415.10,165.02 415.60,165.06 416.10,165.11 416.60,165.17 417.10,165.22 417.60,165.28 418.10,165.34 418.60,165.40 419.10,165.46 419.60,165.52 420.10,165.58 420.60,165.64 421.10,165.70 421.60,165.75 422.10,165.81 422.60,165.86 423.10,165.90 423.60,165.95 424.10,165.98 424.60,166.02 425.10,166.05 425.60,166.07 426.10,166.08 426.60,166.09 427.10,166.08 427.60,166.04 428.10,165.97 428.60,165.88 429.10,165.78 429.60,165.68 430.10,165.59 430.60,165.51 431.10,165.44 431.60,165.37 432.10,165.30 432.60,165.23 433.10,165.17 433.60,165.10 434.10,165.03 434.60,164.95 435.10,164.87 435.60,164.79 436.10,164.69 436.60,164.58 437.10,164.46 437.60,164.33 438.10,164.18 438.60,164.01 439.10,163.82 439.60,163.61 440.10,163.38 440.60,163.13 441.10,162.86 441.60,162.57 442.10,162.24 442.60,161.88 443.10,161.44 443.60,160.92 444.10,160.33 444.60,159.67 445.10,158.95 445.60,158.20 446.10,157.42 446.60,156.63 447.10,155.83 447.60,155.01 448.10,154.17 448.60,153.29 449.10,152.38 449.60,151.43 450.10,150.46 450.60,149.45 451.10,148.42 451.60,147.34 452.10,146.23 452.60,145.05 453.10,143.81 453.60,142.52 454.10,141.19 454.60,139.86 455.10,138.55 455.60,137.27 456.10,136.02 456.60,134.78 457.10,133.55 457.60,132.35 458.10,131.17 458.60,130.04 459.10,128.95 459.60,127.89 460.10,126.85 460.60,125.85 461.10,124.92 461.60,124.07 462.10,123.34 462.60,122.71 463.10,122.16 463.60,121.70 464.10,121.31 464.60,121.01 465.10,120.80 465.60,120.64 466.10,120.51 466.60,120.37 467.10,120.19 467.60,119.97 468.10,119.68 468.60,119.33 469.10,118.93 469.60,118.48 470.10,117.99 470.60,117.47 471.10,116.91 471.60,116.30 472.10,115.62 472.60,114.87 473.10,114.04 473.60,113.16 474.10,112.24 474.60,111.29 475.10,110.30 475.60,109.26 476.10,108.15 476.60,106.93 477.10,105.60 477.60,104.15 478.10,102.58 478.60,100.91 479.10,99.15 479.60,97.30 480.10,95.39 480.60,93.41 481.10,91.37 481.60,89.26 482.10,87.01 482.60,84.60 483.10,82.02 483.60,79.35 484.10,76.70 484.60,74.16 485.10,71.82 485.60,69.71 486.10,67.77 486.60,65.92 487.10,64.12 487.60,62.41 488.10,60.86 488.60,59.54 489.10,58.52 489.60,57.87 490.10,57.66 490.60,57.93 491.10,58.65 491.60,59.78 492.10,61.22 492.60,62.89 493.10,64.71 493.60,66.58 494.10,68.46 494.60,70.36 495.10,72.33 495.60,74.43 496.10,76.68 496.60,79.09 497.10,81.68 497.60,84.49 498.10,87.63 498.60,91.11 499.10,94.77 499.60,98.28 500.10,101.39 500.60,104.17 501.10,106.89 501.60,109.97 502.10,113.73 502.60,118.22 503.10,123.17 503.60,128.16 504.10,132.95 504.60,137.50 505.10,141.81 505.60,145.78 506.10,149.25 506.60,152.19 507.10,154.70 507.60,156.93 508.10,158.96 508.60,160.79 509.10,162.43 509.60,163.87 510.10,165.09 510.60,166.12 511.10,167.00 511.60,167.78 512.10,168.50 512.60,169.17 513.10,169.76 513.60,170.28 514.10,170.72 514.60,171.06 515.10,171.32 515.60,171.49 516.10,171.61 516.60,171.71 517.10,171.80 517.60,171.89 518.10,171.97 518.60,172.06 519.10,172.14 519.60,172.21 520.10,172.29 520.60,172.36 521.10,172.43 521.60,172.49 522.10,172.56 522.60,172.62 523.10,172.67 523.60,172.73 524.10,172.78 524.60,172.83 525.10,172.88 525.60,172.93 526.10,172.97 526.60,173.01 527.10,173.05 527.60,173.09 528.10,173.12 528.60,173.15 529.10,173.18 529.60,173.21 530.10,173.24 530.60,173.26 531.10,173.28 531.60,173.30 532.10,173.32 532.60,173.33 533.10,173.35 533.60,173.36 534.10,173.37 534.60,173.38 535.10,173.39 535.60,173.39 536.10,173.40 536.60,173.40 537.00,173.40" fill="none" stroke="#ff1aff" stroke-width="1.4" stroke-linejoin="round" stroke-linecap="round"/>
<polyline points="334.60,164.38 335.10,164.36 335.60,164.33 336.10,164.29 336.60,164.26 337.10,164.22 337.60,164.18 338.10,164.15 338.60,164.11 339.10,164.07 339.60,164.04 340.10,164.00 340.60,163.96 341.10,163.93 341.60,163.89 342.10,163.85 342.60,163.81 343.10,163.78 343.60,163.74 344.10,163.70 344.60,163.66 345.10,163.63 345.60,163.59 346.10,163.55 346.60,163.51 347.10,163.47 347.60,163.44 348.10,163.40 348.60,163.36 349.10,163.32 349.60,163.28 350.10,163.24 350.60,163.20 351.10,163.16 351.60,163.13 352.10,163.09 352.60,163.05 353.10,163.01 353.60,162.97 354.10,162.93 354.60,162.89 355.10,162.85 355.60,162.81 356.10,162.77 356.60,162.73 357.10,162.69 357.60,162.65 358.10,162.61 358.60,162.57 359.10,162.53 359.60,162.49 360.10,162.45 360.60,162.41 361.10,162.37 361.60,162.33 362.10,162.29 362.60,162.24 363.10,162.20 363.60,162.16 364.10,162.12 364.60,162.08 365.10,162.04 365.60,162.00 366.10,161.96 366.60,161.92 367.10,161.87 367.60,161.83 368.10,161.79 368.60,161.75 369.10,161.70 369.60,161.65 370.10,161.60 370.60,161.55 371.10,161.49 371.60,161.44 372.10,161.38 372.60,161.33 373.10,161.27 373.60,161.21 374.10,161.15 374.60,161.09 375.10,161.04 375.60,160.98 376.10,160.92 376.60,160.87 377.10,160.82 377.60,160.77 378.10,160.72 378.60,160.67 379.10,160.63 379.60,160.59 380.10,160.55 380.60,160.52 381.10,160.49 381.60,160.46 382.10,160.44 382.60,160.42 383.10,160.41 383.60,160.41 384.10,160.40 384.60,160.40 385.10,160.40 385.60,160.40 386.10,160.41 386.60,160.41 387.10,160.41 387.60,160.41 388.10,160.42 388.60,160.42 389.10,160.42 389.60,160.43 390.10,160.43 390.60,160.44 391.10,160.44 391.60,160.45 392.10,160.45 392.60,160.46 393.10,160.46 393.60,160.46 394.10,160.47 394.60,160.47 395.10,160.48 395.60,160.48 396.10,160.48 396.60,160.49 397.10,160.49 397.60,160.49 398.10,160.50 398.60,160.50 399.10,160.50 399.60,160.50 400.10,160.50 400.60,160.49 401.10,160.47 401.60,160.45 402.10,160.41 402.60,160.37 403.10,160.32 403.60,160.27 404.10,160.21 404.60,160.14 405.10,160.07 405.60,160.00 406.10,159.92 406.60,159.84 407.10,159.75 407.60,159.67 408.10,159.57 408.60,159.46 409.10,159.33 409.60,159.18 410.10,159.01 410.60,158.83 411.10,158.63 411.60,158.42 412.10,158.21 412.60,158.00 413.10,157.78 413.60,157.57 414.10,157.36 414.60,157.16 415.10,156.95 415.60,156.75 416.10,156.53 416.60,156.29 417.10,156.05 417.60,155.82 418.10,155.59 418.60,155.38 419.10,155.19 419.60,155.04 420.10,154.92 420.60,154.85 421.10,154.82 421.60,154.81 422.10,154.81 422.60,154.81 423.10,154.81 423.60,154.82 424.10,154.83 424.60,154.84 425.10,154.84 425.60,154.85 426.10,154.86 426.60,154.87 427.10,154.88 427.60,154.88 428.10,154.89 428.60,154.89 429.10,154.90 429.60,154.90 430.10,154.90 430.60,154.89 431.10,154.87 431.60,154.85 432.10,154.82 432.60,154.78 433.10,154.73 433.60,154.68 434.10,154.63 434.60,154.57 435.10,154.51 435.60,154.45 436.10,154.38 436.60,154.29 437.10,154.19 437.60,154.08 438.10,153.95 438.60,153.81 439.10,153.67 439.60,153.52 440.10,153.37 440.60,153.22 441.10,153.07 441.60,152.91 442.10,152.75 442.60,152.59 443.10,152.42 443.60,152.24 444.10,152.05 444.60,151.85 445.10,151.64 445.60,151.42 446.10,151.19 446.60,150.93 447.10,150.66 447.60,150.36 448.10,150.04 448.60,149.70 449.10,149.33 449.60,148.94 450.10,148.52 450.60,148.09 451.10,147.64 451.60,147.17 452.10,146.67 452.60,146.13 453.10,145.55 453.60,144.93 454.10,144.26 454.60,143.57 455.10,142.86 455.60,142.13 456.10,141.37 456.60,140.59 457.10,139.77 457.60,138.93 458.10,138.07 458.60,137.21 459.10,136.35 459.60,135.50 460.10,134.66 460.60,133.82 461.10,132.98 461.60,132.12 462.10,131.26 462.60,130.36 463.10,129.43 463.60,128.46 464.10,127.45 464.60,126.39 465.10,125.29 465.60,124.19 466.10,123.08 466.60,121.98 467.10,120.87 467.60,119.76 468.10,118.64 468.60,117.51 469.10,116.38 469.60,115.26 470.10,114.14 470.60,112.99 471.10,111.80 471.60,110.52 472.10,109.13 472.60,107.65 473.10,106.06 473.60,104.38 474.10,102.62 474.60,100.76 475.10,98.83 475.60,96.81 476.10,94.71 476.60,92.54 477.10,90.29 477.60,87.93 478.10,85.45 478.60,82.82 479.10,80.04 479.60,77.14 480.10,74.12 480.60,71.00 481.10,67.81 481.60,64.56 482.10,61.27 482.60,57.95 483.10,54.63 483.60,51.27 484.10,47.82 484.60,44.26 485.10,40.65 485.60,37.12 486.10,33.81 486.60,30.72 487.10,27.76 487.60,24.88 488.10,22.12 488.60,19.62 489.10,17.54 489.60,16.05 490.10,15.27 490.60,15.23 491.10,15.89 491.60,17.14 492.10,18.86 492.60,20.96 493.10,23.33 493.60,25.89 494.10,28.57 494.60,31.38 495.10,34.44 495.60,37.86 496.10,41.65 496.60,45.75 497.10,50.08 497.60,54.66 498.10,59.53 498.60,64.65 499.10,69.89 499.60,75.08 500.10,80.17 500.60,85.16 501.10,90.10 501.60,95.03 502.10,99.94 502.60,104.84 503.10,109.77 503.60,114.74 504.10,119.72 504.60,124.62 505.10,129.33 505.60,133.83 506.10,138.15 506.60,142.26 507.10,146.03 507.60,149.37 508.10,152.23 508.60,154.73 509.10,156.97 509.60,159.03 510.10,160.90 510.60,162.57 511.10,164.02 511.60,165.26 512.10,166.30 512.60,167.19 513.10,167.99 513.60,168.73 514.10,169.41 514.60,170.01 515.10,170.53 515.60,170.95 516.10,171.27 516.60,171.49 517.10,171.63 517.60,171.74 518.10,171.82 518.60,171.90 519.10,171.98 519.60,172.06 520.10,172.13 520.60,172.20 521.10,172.26 521.60,172.33 522.10,172.39 522.60,172.45 523.10,172.51 523.60,172.56 524.10,172.61 524.60,172.66 525.10,172.71 525.60,172.75 526.10,172.79 526.60,172.83 527.10,172.87 527.60,172.90 528.10,172.94 528.60,172.97 529.10,172.99 529.60,173.02 530.10,173.05 530.60,173.07 531.10,173.09 531.60,173.11 532.10,173.12 532.60,173.14 533.10,173.15 533.60,173.16 534.10,173.17 534.60,173.18 535.10,173.19 535.60,173.19 536.10,173.20 536.60,173.20 537.00,173.20" fill="none" stroke="#1f8f1f" stroke-width="1.4" stroke-linejoin="round" stroke-linecap="round"/>
<line x1="333.95" y1="8.5" x2="538.05" y2="8.5" stroke="#666" stroke-width="1.1"/>
<line x1="333.95" y1="177.2" x2="538.05" y2="177.2" stroke="#404040" stroke-width="1.3"/>
<line x1="334.5" y1="7.95" x2="334.5" y2="177.85" stroke="#707070" stroke-width="1.1"/>
<line x1="537.5" y1="7.95" x2="537.5" y2="177.85" stroke="#505050" stroke-width="1.1"/>
<line x1="537.50" y1="177.2" x2="537.50" y2="180.2" stroke="#555" stroke-width="1"/>
<text x="537.50" y="189.9" font-size="9.2" text-anchor="middle" >282</text>
<line x1="520.58" y1="177.2" x2="520.58" y2="178.79999999999998" stroke="#555" stroke-width="1"/>
<line x1="503.67" y1="177.2" x2="503.67" y2="180.2" stroke="#555" stroke-width="1"/>
<text x="503.67" y="189.9" font-size="9.2" text-anchor="middle" >284</text>
<line x1="486.75" y1="177.2" x2="486.75" y2="178.79999999999998" stroke="#555" stroke-width="1"/>
<line x1="469.83" y1="177.2" x2="469.83" y2="180.2" stroke="#555" stroke-width="1"/>
<text x="469.83" y="189.9" font-size="9.2" text-anchor="middle" >286</text>
<line x1="452.92" y1="177.2" x2="452.92" y2="178.79999999999998" stroke="#555" stroke-width="1"/>
<line x1="436.00" y1="177.2" x2="436.00" y2="180.2" stroke="#555" stroke-width="1"/>
<text x="436.00" y="189.9" font-size="9.2" text-anchor="middle" >288</text>
<line x1="419.08" y1="177.2" x2="419.08" y2="178.79999999999998" stroke="#555" stroke-width="1"/>
<line x1="402.17" y1="177.2" x2="402.17" y2="180.2" stroke="#555" stroke-width="1"/>
<text x="402.17" y="189.9" font-size="9.2" text-anchor="middle" >290</text>
<line x1="385.25" y1="177.2" x2="385.25" y2="178.79999999999998" stroke="#555" stroke-width="1"/>
<line x1="368.33" y1="177.2" x2="368.33" y2="180.2" stroke="#555" stroke-width="1"/>
<text x="368.33" y="189.9" font-size="9.2" text-anchor="middle" >292</text>
<line x1="351.42" y1="177.2" x2="351.42" y2="178.79999999999998" stroke="#555" stroke-width="1"/>
<line x1="334.50" y1="177.2" x2="334.50" y2="180.2" stroke="#555" stroke-width="1"/>
<text x="334.50" y="189.9" font-size="9.2" text-anchor="middle" >294</text>
<line x1="338.1" y1="18.00" x2="361.2" y2="18.00" stroke="#111" stroke-width="1.5"/>
<text x="363.4" y="21.60" font-size="10.4" text-anchor="start" letter-spacing="0.25">0 A</text>
<line x1="338.1" y1="30.65" x2="361.2" y2="30.65" stroke="#ff2a2a" stroke-width="1.5"/>
<text x="363.4" y="34.25" font-size="10.4" text-anchor="start" letter-spacing="0.25">12 A</text>
<line x1="338.1" y1="43.30" x2="361.2" y2="43.30" stroke="#2a2aff" stroke-width="1.5"/>
<text x="363.4" y="46.90" font-size="10.4" text-anchor="start" letter-spacing="0.25">16 A</text>
<line x1="338.1" y1="55.95" x2="361.2" y2="55.95" stroke="#ff2aff" stroke-width="1.5"/>
<text x="363.4" y="59.55" font-size="10.4" text-anchor="start" letter-spacing="0.25">20 A</text>
<line x1="338.1" y1="68.60" x2="361.2" y2="68.60" stroke="#4aa64a" stroke-width="1.5"/>
<text x="363.4" y="72.20" font-size="10.4" text-anchor="start" letter-spacing="0.25">24 A</text>
<text x="315.6" y="17.5" font-size="10.2" text-anchor="start" >(b)</text>
<text x="435.85" y="203.8" font-size="10.2" text-anchor="middle" >Binding Energy (eV)</text>
<text x="0" y="0" font-size="10.5" text-anchor="middle" transform="translate(322.0,88.55) rotate(-90)">Intensity (a.u.)</text>
<polyline points="181.50,367.50 182.00,367.50 182.50,367.50 183.00,367.50 183.50,367.50 184.00,367.50 184.50,367.50 185.00,367.50 185.50,367.50 186.00,367.50 186.50,367.50 187.00,367.50 187.50,367.50 188.00,367.50 188.50,367.50 189.00,367.50 189.50,367.50 190.00,367.50 190.50,367.50 191.00,367.49 191.50,367.49 192.00,367.49 192.50,367.49 193.00,367.49 193.50,367.49 194.00,367.49 194.50,367.49 195.00,367.49 195.50,367.49 196.00,367.49 196.50,367.49 197.00,367.49 197.50,367.48 198.00,367.48 198.50,367.48 199.00,367.48 199.50,367.48 200.00,367.48 200.50,367.48 201.00,367.48 201.50,367.47 202.00,367.47 202.50,367.47 203.00,367.47 203.50,367.47 204.00,367.47 204.50,367.46 205.00,367.46 205.50,367.46 206.00,367.46 206.50,367.46 207.00,367.46 207.50,367.45 208.00,367.45 208.50,367.45 209.00,367.45 209.50,367.45 210.00,367.44 210.50,367.44 211.00,367.44 211.50,367.44 212.00,367.43 212.50,367.43 213.00,367.43 213.50,367.43 214.00,367.42 214.50,367.42 215.00,367.42 215.50,367.42 216.00,367.41 216.50,367.41 217.00,367.41 217.50,367.40 218.00,367.40 218.50,367.40 219.00,367.39 219.50,367.39 220.00,367.39 220.50,367.38 221.00,367.38 221.50,367.38 222.00,367.37 222.50,367.37 223.00,367.37 223.50,367.36 224.00,367.36 224.50,367.35 225.00,367.35 225.50,367.35 226.00,367.34 226.50,367.34 227.00,367.33 227.50,367.33 228.00,367.33 228.50,367.32 229.00,367.32 229.50,367.31 230.00,367.31 230.50,367.30 231.00,367.30 231.50,367.29 232.00,367.29 232.50,367.28 233.00,367.28 233.50,367.27 234.00,367.27 234.50,367.26 235.00,367.26 235.50,367.25 236.00,367.25 236.50,367.24 237.00,367.24 237.50,367.23 238.00,367.22 238.50,367.22 239.00,367.21 239.50,367.20 240.00,367.19 240.50,367.18 241.00,367.17 241.50,367.15 242.00,367.13 242.50,367.10 243.00,367.07 243.50,367.03 244.00,367.00 244.50,366.95 245.00,366.91 245.50,366.86 246.00,366.80 246.50,366.75 247.00,366.69 247.50,366.63 248.00,366.57 248.50,366.50 249.00,366.43 249.50,366.36 250.00,366.29 250.50,366.21 251.00,366.12 251.50,366.02 252.00,365.91 252.50,365.80 253.00,365.67 253.50,365.53 254.00,365.38 254.50,365.21 255.00,365.04 255.50,364.85 256.00,364.65 256.50,364.43 257.00,364.18 257.50,363.91 258.00,363.59 258.50,363.22 259.00,362.81 259.50,362.34 260.00,361.83 260.50,361.28 261.00,360.69 261.50,360.06 262.00,359.39 262.50,358.66 263.00,357.86 263.50,357.00 264.00,356.08 264.50,355.11 265.00,354.09 265.50,353.02 266.00,351.91 266.50,350.75 267.00,349.54 267.50,348.29 268.00,346.98 268.50,345.64 269.00,344.27 269.50,342.88 270.00,341.48 270.50,340.08 271.00,338.68 271.50,337.30 272.00,335.92 272.50,334.55 273.00,333.17 273.50,331.77 274.00,330.35 274.50,328.89 275.00,327.37 275.50,325.79 276.00,324.14 276.50,322.42 277.00,320.65 277.50,318.88 278.00,317.12 278.50,315.41 279.00,313.74 279.50,312.14 280.00,310.59 280.50,309.10 281.00,307.66 281.50,306.29 282.00,304.99 282.50,303.79 283.00,302.69 283.50,301.70 284.00,300.81 284.50,300.00 285.00,299.30 285.50,298.70 286.00,298.24 286.50,297.96 287.00,297.88 287.50,298.00 288.00,298.33 288.50,298.84 289.00,299.50 289.50,300.27 290.00,301.14 290.50,302.10 291.00,303.15 291.50,304.30 292.00,305.50 292.50,306.73 293.00,307.95 293.50,309.14 294.00,310.30 294.50,311.44 295.00,312.55 295.50,313.66 296.00,314.77 296.50,315.90 297.00,317.05 297.50,318.23 298.00,319.44 298.50,320.67 299.00,321.93 299.50,323.17 300.00,324.39 300.50,325.58 301.00,326.73 301.50,327.86 302.00,328.96 302.50,330.07 303.00,331.17 303.50,332.27 304.00,333.37 304.50,334.48 305.00,335.59 305.50,336.71 306.00,337.84 306.50,339.00 307.00,340.17 307.50,341.38 308.00,342.61 308.50,343.88 309.00,345.16 309.50,346.43 310.00,347.70 310.50,348.95 311.00,350.18 311.50,351.38 312.00,352.55 312.50,353.66 313.00,354.72 313.50,355.71 314.00,356.63 314.50,357.50 315.00,358.33 315.50,359.12 316.00,359.87 316.50,360.60 317.00,361.28 317.50,361.92 318.00,362.51 318.50,363.05 319.00,363.54 319.50,363.97 320.00,364.34 320.50,364.67 321.00,364.97 321.50,365.24 322.00,365.49 322.50,365.72 323.00,365.94 323.50,366.14 324.00,366.33 324.50,366.51 325.00,366.68 325.50,366.83 326.00,366.98 326.50,367.12 327.00,367.24 327.50,367.37 328.00,367.49 328.50,367.60 329.00,367.71 329.50,367.82 330.00,367.93 330.50,368.04 331.00,368.15 331.50,368.25 332.00,368.35 332.50,368.44 333.00,368.54 333.50,368.63 334.00,368.71 334.50,368.79 335.00,368.87 335.50,368.94 336.00,369.00 336.50,369.06 337.00,369.11 337.50,369.16 338.00,369.20 338.50,369.23 339.00,369.26 339.50,369.28 340.00,369.29 340.50,369.30 341.00,369.31 341.50,369.32 342.00,369.32 342.50,369.33 343.00,369.33 343.50,369.34 344.00,369.34 344.50,369.34 345.00,369.35 345.50,369.35 346.00,369.36 346.50,369.36 347.00,369.37 347.50,369.37 348.00,369.37 348.50,369.38 349.00,369.38 349.50,369.39 350.00,369.39 350.50,369.39 351.00,369.40 351.50,369.40 352.00,369.40 352.50,369.41 353.00,369.41 353.50,369.41 354.00,369.42 354.50,369.42 355.00,369.42 355.50,369.43 356.00,369.43 356.50,369.43 357.00,369.43 357.50,369.44 358.00,369.44 358.50,369.44 359.00,369.44 359.50,369.45 360.00,369.45 360.50,369.45 361.00,369.45 361.50,369.46 362.00,369.46 362.50,369.46 363.00,369.46 363.50,369.46 364.00,369.47 364.50,369.47 365.00,369.47 365.50,369.47 366.00,369.47 366.50,369.47 367.00,369.48 367.50,369.48 368.00,369.48 368.50,369.48 369.00,369.48 369.50,369.48 370.00,369.48 370.50,369.49 371.00,369.49 371.50,369.49 372.00,369.49 372.50,369.49 373.00,369.49 373.50,369.49 374.00,369.49 374.50,369.49 375.00,369.49 375.50,369.49 376.00,369.50 376.50,369.50 377.00,369.50 377.50,369.50 378.00,369.50 378.50,369.50 379.00,369.50 379.50,369.50 380.00,369.50 380.50,369.50 381.00,369.50 381.50,369.50 382.00,369.50 382.50,369.50 383.00,369.50 383.50,369.50 384.00,369.50 384.20,369.50" fill="none" stroke="#0a0a0a" stroke-width="1.4" stroke-linejoin="round" stroke-linecap="round"/>
<polyline points="181.50,360.62 182.00,360.64 182.50,360.66 183.00,360.68 183.50,360.70 184.00,360.73 184.50,360.75 185.00,360.78 185.50,360.80 186.00,360.83 186.50,360.85 187.00,360.87 187.50,360.90 188.00,360.92 188.50,360.94 189.00,360.97 189.50,360.99 190.00,361.01 190.50,361.03 191.00,361.05 191.50,361.07 192.00,361.09 192.50,361.11 193.00,361.13 193.50,361.15 194.00,361.17 194.50,361.19 195.00,361.20 195.50,361.22 196.00,361.24 196.50,361.26 197.00,361.27 197.50,361.29 198.00,361.31 198.50,361.32 199.00,361.34 199.50,361.36 200.00,361.37 200.50,361.39 201.00,361.40 201.50,361.42 202.00,361.43 202.50,361.44 203.00,361.46 203.50,361.47 204.00,361.48 204.50,361.50 205.00,361.51 205.50,361.52 206.00,361.53 206.50,361.54 207.00,361.55 207.50,361.57 208.00,361.58 208.50,361.59 209.00,361.60 209.50,361.61 210.00,361.62 210.50,361.63 211.00,361.63 211.50,361.64 212.00,361.65 212.50,361.66 213.00,361.67 213.50,361.68 214.00,361.68 214.50,361.69 215.00,361.70 215.50,361.71 216.00,361.71 216.50,361.72 217.00,361.72 217.50,361.73 218.00,361.74 218.50,361.74 219.00,361.75 219.50,361.75 220.00,361.76 220.50,361.76 221.00,361.76 221.50,361.77 222.00,361.77 222.50,361.78 223.00,361.78 223.50,361.78 224.00,361.78 224.50,361.79 225.00,361.79 225.50,361.79 226.00,361.79 226.50,361.79 227.00,361.80 227.50,361.80 228.00,361.80 228.50,361.80 229.00,361.80 229.50,361.80 230.00,361.80 230.50,361.80 231.00,361.80 231.50,361.80 232.00,361.80 232.50,361.79 233.00,361.79 233.50,361.79 234.00,361.79 234.50,361.78 235.00,361.78 235.50,361.77 236.00,361.77 236.50,361.76 237.00,361.76 237.50,361.75 238.00,361.74 238.50,361.74 239.00,361.73 239.50,361.72 240.00,361.71 240.50,361.70 241.00,361.69 241.50,361.68 242.00,361.67 242.50,361.66 243.00,361.65 243.50,361.64 244.00,361.62 244.50,361.61 245.00,361.58 245.50,361.55 246.00,361.51 246.50,361.45 247.00,361.38 247.50,361.30 248.00,361.20 248.50,361.09 249.00,360.97 249.50,360.84 250.00,360.70 250.50,360.55 251.00,360.39 251.50,360.22 252.00,360.03 252.50,359.81 253.00,359.57 253.50,359.29 254.00,358.98 254.50,358.63 255.00,358.26 255.50,357.86 256.00,357.45 256.50,357.02 257.00,356.58 257.50,356.12 258.00,355.64 258.50,355.13 259.00,354.58 259.50,353.99 260.00,353.34 260.50,352.62 261.00,351.81 261.50,350.90 262.00,349.90 262.50,348.80 263.00,347.61 263.50,346.32 264.00,344.94 264.50,343.49 265.00,341.99 265.50,340.48 266.00,339.02 266.50,337.63 267.00,336.31 267.50,335.02 268.00,333.73 268.50,332.37 269.00,330.88 269.50,329.24 270.00,327.41 270.50,325.38 271.00,323.17 271.50,320.79 272.00,318.26 272.50,315.60 273.00,312.84 273.50,309.99 274.00,307.07 274.50,304.08 275.00,301.02 275.50,297.87 276.00,294.61 276.50,291.28 277.00,287.88 277.50,284.45 278.00,281.02 278.50,277.62 279.00,274.28 279.50,271.04 280.00,267.98 280.50,265.15 281.00,262.59 281.50,260.30 282.00,258.25 282.50,256.45 283.00,254.87 283.50,253.51 284.00,252.37 284.50,251.40 285.00,250.60 285.50,249.94 286.00,249.43 286.50,249.09 287.00,248.94 287.50,249.00 288.00,249.24 288.50,249.66 289.00,250.25 289.50,251.00 290.00,251.91 290.50,253.02 291.00,254.38 291.50,256.00 292.00,257.92 292.50,260.14 293.00,262.63 293.50,265.39 294.00,268.37 294.50,271.45 295.00,274.53 295.50,277.51 296.00,280.32 296.50,282.97 297.00,285.48 297.50,287.89 298.00,290.21 298.50,292.48 299.00,294.72 299.50,296.93 300.00,299.14 300.50,301.35 301.00,303.57 301.50,305.78 302.00,307.97 302.50,310.12 303.00,312.22 303.50,314.25 304.00,316.19 304.50,318.02 305.00,319.74 305.50,321.35 306.00,322.86 306.50,324.30 307.00,325.69 307.50,327.05 308.00,328.40 308.50,329.75 309.00,331.11 309.50,332.50 310.00,333.94 310.50,335.43 311.00,336.97 311.50,338.56 312.00,340.16 312.50,341.77 313.00,343.35 313.50,344.88 314.00,346.36 314.50,347.79 315.00,349.17 315.50,350.51 316.00,351.80 316.50,353.03 317.00,354.18 317.50,355.23 318.00,356.15 318.50,356.96 319.00,357.64 319.50,358.24 320.00,358.77 320.50,359.25 321.00,359.69 321.50,360.10 322.00,360.47 322.50,360.81 323.00,361.10 323.50,361.36 324.00,361.59 324.50,361.77 325.00,361.93 325.50,362.05 326.00,362.17 326.50,362.27 327.00,362.36 327.50,362.45 328.00,362.54 328.50,362.62 329.00,362.70 329.50,362.78 330.00,362.85 330.50,362.93 331.00,362.99 331.50,363.06 332.00,363.12 332.50,363.17 333.00,363.23 333.50,363.28 334.00,363.32 334.50,363.36 335.00,363.40 335.50,363.44 336.00,363.47 336.50,363.50 337.00,363.52 337.50,363.54 338.00,363.56 338.50,363.58 339.00,363.59 339.50,363.59 340.00,363.60 340.50,363.60 341.00,363.60 341.50,363.60 342.00,363.60 342.50,363.60 343.00,363.60 343.50,363.60 344.00,363.60 344.50,363.60 345.00,363.60 345.50,363.60 346.00,363.60 346.50,363.60 347.00,363.60 347.50,363.60 348.00,363.60 348.50,363.60 349.00,363.60 349.50,363.60 350.00,363.60 350.50,363.60 351.00,363.60 351.50,363.60 352.00,363.60 352.50,363.60 353.00,363.60 353.50,363.60 354.00,363.60 354.50,363.60 355.00,363.60 355.50,363.60 356.00,363.60 356.50,363.60 357.00,363.60 357.50,363.60 358.00,363.60 358.50,363.60 359.00,363.60 359.50,363.60 360.00,363.60 360.50,363.60 361.00,363.60 361.50,363.60 362.00,363.60 362.50,363.60 363.00,363.60 363.50,363.60 364.00,363.60 364.50,363.60 365.00,363.60 365.50,363.60 366.00,363.60 366.50,363.60 367.00,363.60 367.50,363.60 368.00,363.60 368.50,363.60 369.00,363.60 369.50,363.60 370.00,363.60 370.50,363.60 371.00,363.60 371.50,363.60 372.00,363.60 372.50,363.60 373.00,363.60 373.50,363.60 374.00,363.60 374.50,363.60 375.00,363.60 375.50,363.60 376.00,363.60 376.50,363.60 377.00,363.60 377.50,363.60 378.00,363.60 378.50,363.60 379.00,363.60 379.50,363.60 380.00,363.60 380.50,363.60 381.00,363.60 381.50,363.60 382.00,363.60 382.50,363.60 383.00,363.60 383.50,363.60 384.00,363.60 384.20,363.60" fill="none" stroke="#ff1a1a" stroke-width="1.4" stroke-linejoin="round" stroke-linecap="round"/>
<polyline points="181.50,360.62 182.00,360.64 182.50,360.66 183.00,360.68 183.50,360.70 184.00,360.73 184.50,360.75 185.00,360.78 185.50,360.80 186.00,360.83 186.50,360.85 187.00,360.87 187.50,360.90 188.00,360.92 188.50,360.94 189.00,360.97 189.50,360.99 190.00,361.01 190.50,361.03 191.00,361.05 191.50,361.07 192.00,361.09 192.50,361.11 193.00,361.13 193.50,361.15 194.00,361.17 194.50,361.19 195.00,361.20 195.50,361.22 196.00,361.24 196.50,361.26 197.00,361.27 197.50,361.29 198.00,361.31 198.50,361.32 199.00,361.34 199.50,361.36 200.00,361.37 200.50,361.39 201.00,361.40 201.50,361.42 202.00,361.43 202.50,361.44 203.00,361.46 203.50,361.47 204.00,361.48 204.50,361.50 205.00,361.51 205.50,361.52 206.00,361.53 206.50,361.54 207.00,361.55 207.50,361.57 208.00,361.58 208.50,361.59 209.00,361.60 209.50,361.61 210.00,361.62 210.50,361.63 211.00,361.63 211.50,361.64 212.00,361.65 212.50,361.66 213.00,361.67 213.50,361.68 214.00,361.68 214.50,361.69 215.00,361.70 215.50,361.71 216.00,361.71 216.50,361.72 217.00,361.72 217.50,361.73 218.00,361.74 218.50,361.74 219.00,361.75 219.50,361.75 220.00,361.76 220.50,361.76 221.00,361.76 221.50,361.77 222.00,361.77 222.50,361.78 223.00,361.78 223.50,361.78 224.00,361.78 224.50,361.79 225.00,361.79 225.50,361.79 226.00,361.79 226.50,361.79 227.00,361.80 227.50,361.80 228.00,361.80 228.50,361.80 229.00,361.80 229.50,361.80 230.00,361.80 230.50,361.80 231.00,361.80 231.50,361.80 232.00,361.80 232.50,361.79 233.00,361.79 233.50,361.79 234.00,361.79 234.50,361.78 235.00,361.78 235.50,361.77 236.00,361.77 236.50,361.76 237.00,361.76 237.50,361.75 238.00,361.75 238.50,361.74 239.00,361.73 239.50,361.72 240.00,361.71 240.50,361.70 241.00,361.69 241.50,361.68 242.00,361.67 242.50,361.66 243.00,361.65 243.50,361.64 244.00,361.62 244.50,361.60 245.00,361.58 245.50,361.54 246.00,361.50 246.50,361.43 247.00,361.36 247.50,361.26 248.00,361.15 248.50,361.03 249.00,360.89 249.50,360.74 250.00,360.58 250.50,360.42 251.00,360.24 251.50,360.04 252.00,359.83 252.50,359.60 253.00,359.33 253.50,359.03 254.00,358.69 254.50,358.32 255.00,357.91 255.50,357.48 256.00,357.03 256.50,356.55 257.00,356.05 257.50,355.53 258.00,354.97 258.50,354.38 259.00,353.74 259.50,353.05 260.00,352.29 260.50,351.46 261.00,350.54 261.50,349.53 262.00,348.42 262.50,347.20 263.00,345.90 263.50,344.49 264.00,342.99 264.50,341.38 265.00,339.65 265.50,337.78 266.00,335.76 266.50,333.58 267.00,331.27 267.50,328.83 268.00,326.30 268.50,323.69 269.00,321.03 269.50,318.30 270.00,315.51 270.50,312.65 271.00,309.72 271.50,306.70 272.00,303.57 272.50,300.31 273.00,296.91 273.50,293.38 274.00,289.76 274.50,286.11 275.00,282.50 275.50,278.99 276.00,275.59 276.50,272.31 277.00,269.13 277.50,266.05 278.00,263.07 278.50,260.18 279.00,257.40 279.50,254.72 280.00,252.15 280.50,249.70 281.00,247.42 281.50,245.34 282.00,243.50 282.50,241.90 283.00,240.54 283.50,239.38 284.00,238.42 284.50,237.71 285.00,237.26 285.50,237.11 286.00,237.27 286.50,237.74 287.00,238.46 287.50,239.42 288.00,240.57 288.50,241.92 289.00,243.48 289.50,245.25 290.00,247.25 290.50,249.44 291.00,251.81 291.50,254.34 292.00,257.02 292.50,259.85 293.00,262.79 293.50,265.81 294.00,268.86 294.50,271.89 295.00,274.88 295.50,277.83 296.00,280.74 296.50,283.61 297.00,286.45 297.50,289.25 298.00,292.00 298.50,294.69 299.00,297.31 299.50,299.87 300.00,302.36 300.50,304.79 301.00,307.15 301.50,309.45 302.00,311.67 302.50,313.80 303.00,315.82 303.50,317.75 304.00,319.58 304.50,321.34 305.00,323.07 305.50,324.82 306.00,326.59 306.50,328.40 307.00,330.22 307.50,332.05 308.00,333.86 308.50,335.63 309.00,337.36 309.50,339.03 310.00,340.66 310.50,342.25 311.00,343.79 311.50,345.28 312.00,346.70 312.50,348.05 313.00,349.31 313.50,350.48 314.00,351.57 314.50,352.59 315.00,353.54 315.50,354.45 316.00,355.30 316.50,356.09 317.00,356.81 317.50,357.46 318.00,358.02 318.50,358.52 319.00,358.94 319.50,359.32 320.00,359.66 320.50,359.98 321.00,360.28 321.50,360.56 322.00,360.83 322.50,361.09 323.00,361.33 323.50,361.56 324.00,361.78 324.50,361.99 325.00,362.18 325.50,362.36 326.00,362.53 326.50,362.69 327.00,362.84 327.50,362.97 328.00,363.10 328.50,363.21 329.00,363.31 329.50,363.40 330.00,363.49 330.50,363.56 331.00,363.64 331.50,363.71 332.00,363.77 332.50,363.84 333.00,363.90 333.50,363.96 334.00,364.01 334.50,364.06 335.00,364.11 335.50,364.16 336.00,364.20 336.50,364.24 337.00,364.27 337.50,364.30 338.00,364.33 338.50,364.35 339.00,364.37 339.50,364.38 340.00,364.39 340.50,364.40 341.00,364.41 341.50,364.42 342.00,364.42 342.50,364.43 343.00,364.43 343.50,364.43 344.00,364.44 344.50,364.44 345.00,364.45 345.50,364.45 346.00,364.46 346.50,364.46 347.00,364.47 347.50,364.47 348.00,364.47 348.50,364.48 349.00,364.48 349.50,364.49 350.00,364.49 350.50,364.49 351.00,364.50 351.50,364.50 352.00,364.50 352.50,364.51 353.00,364.51 353.50,364.51 354.00,364.52 354.50,364.52 355.00,364.52 355.50,364.53 356.00,364.53 356.50,364.53 357.00,364.53 357.50,364.54 358.00,364.54 358.50,364.54 359.00,364.54 359.50,364.55 360.00,364.55 360.50,364.55 361.00,364.55 361.50,364.56 362.00,364.56 362.50,364.56 363.00,364.56 363.50,364.56 364.00,364.57 364.50,364.57 365.00,364.57 365.50,364.57 366.00,364.57 366.50,364.57 367.00,364.58 367.50,364.58 368.00,364.58 368.50,364.58 369.00,364.58 369.50,364.58 370.00,364.58 370.50,364.59 371.00,364.59 371.50,364.59 372.00,364.59 372.50,364.59 373.00,364.59 373.50,364.59 374.00,364.59 374.50,364.59 375.00,364.59 375.50,364.59 376.00,364.60 376.50,364.60 377.00,364.60 377.50,364.60 378.00,364.60 378.50,364.60 379.00,364.60 379.50,364.60 380.00,364.60 380.50,364.60 381.00,364.60 381.50,364.60 382.00,364.60 382.50,364.60 383.00,364.60 383.50,364.60 384.00,364.60 384.20,364.60" fill="none" stroke="#1a1aff" stroke-width="1.4" stroke-linejoin="round" stroke-linecap="round"/>
<polyline points="181.50,361.70 182.00,361.71 182.50,361.71 183.00,361.72 183.50,361.72 184.00,361.73 184.50,361.73 185.00,361.74 185.50,361.74 186.00,361.75 186.50,361.75 187.00,361.76 187.50,361.76 188.00,361.77 188.50,361.77 189.00,361.78 189.50,361.78 190.00,361.79 190.50,361.79 191.00,361.80 191.50,361.81 192.00,361.81 192.50,361.82 193.00,361.82 193.50,361.83 194.00,361.83 194.50,361.84 195.00,361.84 195.50,361.85 196.00,361.85 196.50,361.86 197.00,361.86 197.50,361.87 198.00,361.87 198.50,361.88 199.00,361.88 199.50,361.89 200.00,361.89 200.50,361.90 201.00,361.90 201.50,361.91 202.00,361.91 202.50,361.92 203.00,361.92 203.50,361.93 204.00,361.93 204.50,361.94 205.00,361.94 205.50,361.95 206.00,361.96 206.50,361.96 207.00,361.97 207.50,361.97 208.00,361.98 208.50,361.98 209.00,361.99 209.50,361.99 210.00,362.00 210.50,362.00 211.00,362.01 211.50,362.01 212.00,362.02 212.50,362.02 213.00,362.03 213.50,362.03 214.00,362.04 214.50,362.04 215.00,362.05 215.50,362.05 216.00,362.06 216.50,362.06 217.00,362.07 217.50,362.07 218.00,362.08 218.50,362.08 219.00,362.09 219.50,362.09 220.00,362.10 220.50,362.10 221.00,362.11 221.50,362.11 222.00,362.12 222.50,362.12 223.00,362.13 223.50,362.13 224.00,362.14 224.50,362.14 225.00,362.15 225.50,362.15 226.00,362.16 226.50,362.16 227.00,362.17 227.50,362.17 228.00,362.18 228.50,362.18 229.00,362.19 229.50,362.20 230.00,362.20 230.50,362.21 231.00,362.21 231.50,362.22 232.00,362.22 232.50,362.23 233.00,362.24 233.50,362.24 234.00,362.25 234.50,362.26 235.00,362.26 235.50,362.27 236.00,362.27 236.50,362.28 237.00,362.28 237.50,362.29 238.00,362.29 238.50,362.29 239.00,362.30 239.50,362.29 240.00,362.29 240.50,362.28 241.00,362.27 241.50,362.25 242.00,362.22 242.50,362.19 243.00,362.14 243.50,362.10 244.00,362.05 244.50,361.99 245.00,361.93 245.50,361.86 246.00,361.79 246.50,361.72 247.00,361.65 247.50,361.57 248.00,361.49 248.50,361.40 249.00,361.30 249.50,361.19 250.00,361.07 250.50,360.94 251.00,360.80 251.50,360.65 252.00,360.48 252.50,360.30 253.00,360.10 253.50,359.90 254.00,359.67 254.50,359.43 255.00,359.16 255.50,358.86 256.00,358.52 256.50,358.12 257.00,357.65 257.50,357.14 258.00,356.57 258.50,355.96 259.00,355.32 259.50,354.65 260.00,353.96 260.50,353.24 261.00,352.49 261.50,351.70 262.00,350.88 262.50,350.01 263.00,349.09 263.50,348.12 264.00,347.09 264.50,346.00 265.00,344.85 265.50,343.62 266.00,342.32 266.50,340.97 267.00,339.55 267.50,338.09 268.00,336.59 268.50,335.05 269.00,333.49 269.50,331.91 270.00,330.30 270.50,328.65 271.00,326.97 271.50,325.26 272.00,323.52 272.50,321.76 273.00,320.00 273.50,318.25 274.00,316.52 274.50,314.84 275.00,313.22 275.50,311.70 276.00,310.26 276.50,308.93 277.00,307.70 277.50,306.58 278.00,305.60 278.50,304.73 279.00,303.98 279.50,303.34 280.00,302.80 280.50,302.38 281.00,302.09 281.50,301.94 282.00,301.94 282.50,302.08 283.00,302.35 283.50,302.72 284.00,303.20 284.50,303.79 285.00,304.50 285.50,305.33 286.00,306.25 286.50,307.23 287.00,308.22 287.50,309.21 288.00,310.18 288.50,311.15 289.00,312.12 289.50,313.11 290.00,314.13 290.50,315.19 291.00,316.30 291.50,317.45 292.00,318.64 292.50,319.83 293.00,321.00 293.50,322.13 294.00,323.21 294.50,324.23 295.00,325.21 295.50,326.14 296.00,327.04 296.50,327.91 297.00,328.74 297.50,329.55 298.00,330.32 298.50,331.08 299.00,331.81 299.50,332.55 300.00,333.29 300.50,334.05 301.00,334.83 301.50,335.63 302.00,336.44 302.50,337.27 303.00,338.12 303.50,338.97 304.00,339.82 304.50,340.68 305.00,341.55 305.50,342.42 306.00,343.30 306.50,344.18 307.00,345.08 307.50,345.98 308.00,346.90 308.50,347.81 309.00,348.72 309.50,349.60 310.00,350.46 310.50,351.29 311.00,352.09 311.50,352.85 312.00,353.60 312.50,354.33 313.00,355.05 313.50,355.76 314.00,356.45 314.50,357.12 315.00,357.77 315.50,358.39 316.00,358.97 316.50,359.51 317.00,360.00 317.50,360.43 318.00,360.81 318.50,361.14 319.00,361.43 319.50,361.68 320.00,361.91 320.50,362.12 321.00,362.32 321.50,362.51 322.00,362.70 322.50,362.87 323.00,363.03 323.50,363.19 324.00,363.34 324.50,363.48 325.00,363.61 325.50,363.73 326.00,363.85 326.50,363.95 327.00,364.05 327.50,364.15 328.00,364.23 328.50,364.30 329.00,364.37 329.50,364.43 330.00,364.49 330.50,364.54 331.00,364.59 331.50,364.63 332.00,364.68 332.50,364.72 333.00,364.76 333.50,364.79 334.00,364.83 334.50,364.86 335.00,364.89 335.50,364.92 336.00,364.95 336.50,364.98 337.00,365.00 337.50,365.02 338.00,365.04 338.50,365.06 339.00,365.07 339.50,365.09 340.00,365.10 340.50,365.11 341.00,365.12 341.50,365.13 342.00,365.14 342.50,365.14 343.00,365.15 343.50,365.16 344.00,365.17 344.50,365.18 345.00,365.19 345.50,365.20 346.00,365.20 346.50,365.21 347.00,365.22 347.50,365.23 348.00,365.23 348.50,365.24 349.00,365.25 349.50,365.26 350.00,365.26 350.50,365.27 351.00,365.28 351.50,365.28 352.00,365.29 352.50,365.30 353.00,365.30 353.50,365.31 354.00,365.32 354.50,365.32 355.00,365.33 355.50,365.33 356.00,365.34 356.50,365.35 357.00,365.35 357.50,365.36 358.00,365.36 358.50,365.37 359.00,365.37 359.50,365.38 360.00,365.38 360.50,365.39 361.00,365.39 361.50,365.40 362.00,365.40 362.50,365.41 363.00,365.41 363.50,365.41 364.00,365.42 364.50,365.42 365.00,365.43 365.50,365.43 366.00,365.43 366.50,365.44 367.00,365.44 367.50,365.44 368.00,365.45 368.50,365.45 369.00,365.45 369.50,365.46 370.00,365.46 370.50,365.46 371.00,365.47 371.50,365.47 372.00,365.47 372.50,365.47 373.00,365.48 373.50,365.48 374.00,365.48 374.50,365.48 375.00,365.48 375.50,365.49 376.00,365.49 376.50,365.49 377.00,365.49 377.50,365.49 378.00,365.49 378.50,365.49 379.00,365.49 379.50,365.50 380.00,365.50 380.50,365.50 381.00,365.50 381.50,365.50 382.00,365.50 382.50,365.50 383.00,365.50 383.50,365.50 384.00,365.50 384.20,365.50" fill="none" stroke="#ff1aff" stroke-width="1.4" stroke-linejoin="round" stroke-linecap="round"/>
<polyline points="181.50,355.20 182.00,355.20 182.50,355.20 183.00,355.20 183.50,355.20 184.00,355.20 184.50,355.20 185.00,355.20 185.50,355.19 186.00,355.19 186.50,355.19 187.00,355.19 187.50,355.19 188.00,355.19 188.50,355.19 189.00,355.18 189.50,355.18 190.00,355.18 190.50,355.18 191.00,355.17 191.50,355.17 192.00,355.17 192.50,355.16 193.00,355.16 193.50,355.16 194.00,355.15 194.50,355.15 195.00,355.15 195.50,355.14 196.00,355.14 196.50,355.13 197.00,355.13 197.50,355.12 198.00,355.12 198.50,355.11 199.00,355.11 199.50,355.10 200.00,355.10 200.50,355.09 201.00,355.09 201.50,355.08 202.00,355.07 202.50,355.07 203.00,355.06 203.50,355.06 204.00,355.05 204.50,355.04 205.00,355.04 205.50,355.03 206.00,355.02 206.50,355.01 207.00,355.01 207.50,355.00 208.00,354.99 208.50,354.98 209.00,354.97 209.50,354.97 210.00,354.96 210.50,354.95 211.00,354.94 211.50,354.93 212.00,354.92 212.50,354.91 213.00,354.90 213.50,354.89 214.00,354.89 214.50,354.88 215.00,354.87 215.50,354.86 216.00,354.85 216.50,354.84 217.00,354.82 217.50,354.81 218.00,354.80 218.50,354.79 219.00,354.78 219.50,354.77 220.00,354.76 220.50,354.75 221.00,354.74 221.50,354.72 222.00,354.71 222.50,354.70 223.00,354.69 223.50,354.67 224.00,354.66 224.50,354.65 225.00,354.64 225.50,354.62 226.00,354.61 226.50,354.60 227.00,354.58 227.50,354.57 228.00,354.56 228.50,354.54 229.00,354.53 229.50,354.51 230.00,354.50 230.50,354.48 231.00,354.46 231.50,354.44 232.00,354.42 232.50,354.39 233.00,354.36 233.50,354.33 234.00,354.29 234.50,354.26 235.00,354.22 235.50,354.18 236.00,354.13 236.50,354.09 237.00,354.04 237.50,353.99 238.00,353.93 238.50,353.88 239.00,353.82 239.50,353.75 240.00,353.69 240.50,353.61 241.00,353.53 241.50,353.44 242.00,353.34 242.50,353.22 243.00,353.10 243.50,352.97 244.00,352.83 244.50,352.68 245.00,352.52 245.50,352.35 246.00,352.17 246.50,351.98 247.00,351.77 247.50,351.53 248.00,351.28 248.50,351.01 249.00,350.72 249.50,350.41 250.00,350.08 250.50,349.72 251.00,349.35 251.50,348.94 252.00,348.51 252.50,348.03 253.00,347.51 253.50,346.94 254.00,346.31 254.50,345.64 255.00,344.92 255.50,344.16 256.00,343.36 256.50,342.54 257.00,341.68 257.50,340.80 258.00,339.90 258.50,338.97 259.00,338.00 259.50,336.99 260.00,335.93 260.50,334.81 261.00,333.65 261.50,332.45 262.00,331.24 262.50,330.02 263.00,328.82 263.50,327.65 264.00,326.50 264.50,325.38 265.00,324.29 265.50,323.21 266.00,322.16 266.50,321.14 267.00,320.16 267.50,319.24 268.00,318.37 268.50,317.58 269.00,316.84 269.50,316.17 270.00,315.56 270.50,315.01 271.00,314.53 271.50,314.11 272.00,313.74 272.50,313.42 273.00,313.15 273.50,312.93 274.00,312.77 274.50,312.66 275.00,312.62 275.50,312.62 276.00,312.68 276.50,312.77 277.00,312.88 277.50,313.02 278.00,313.19 278.50,313.38 279.00,313.62 279.50,313.89 280.00,314.19 280.50,314.51 281.00,314.83 281.50,315.14 282.00,315.43 282.50,315.69 283.00,315.94 283.50,316.16 284.00,316.38 284.50,316.59 285.00,316.80 285.50,316.99 286.00,317.17 286.50,317.33 287.00,317.48 287.50,317.60 288.00,317.70 288.50,317.77 289.00,317.80 289.50,317.78 290.00,317.72 290.50,317.60 291.00,317.44 291.50,317.25 292.00,317.04 292.50,316.83 293.00,316.62 293.50,316.41 294.00,316.21 294.50,316.02 295.00,315.85 295.50,315.71 296.00,315.60 296.50,315.54 297.00,315.54 297.50,315.60 298.00,315.71 298.50,315.87 299.00,316.07 299.50,316.31 300.00,316.57 300.50,316.86 301.00,317.19 301.50,317.55 302.00,317.96 302.50,318.41 303.00,318.89 303.50,319.42 304.00,320.00 304.50,320.61 305.00,321.29 305.50,322.01 306.00,322.80 306.50,323.63 307.00,324.49 307.50,325.37 308.00,326.25 308.50,327.12 309.00,327.98 309.50,328.83 310.00,329.68 310.50,330.52 311.00,331.37 311.50,332.24 312.00,333.12 312.50,334.02 313.00,334.94 313.50,335.90 314.00,336.89 314.50,337.91 315.00,338.94 315.50,339.97 316.00,341.01 316.50,342.02 317.00,343.01 317.50,343.96 318.00,344.86 318.50,345.72 319.00,346.53 319.50,347.29 320.00,348.02 320.50,348.72 321.00,349.40 321.50,350.04 322.00,350.64 322.50,351.22 323.00,351.75 323.50,352.26 324.00,352.73 324.50,353.18 325.00,353.61 325.50,354.02 326.00,354.42 326.50,354.80 327.00,355.17 327.50,355.52 328.00,355.85 328.50,356.17 329.00,356.46 329.50,356.74 330.00,357.00 330.50,357.23 331.00,357.45 331.50,357.66 332.00,357.85 332.50,358.03 333.00,358.21 333.50,358.39 334.00,358.56 334.50,358.72 335.00,358.88 335.50,359.02 336.00,359.16 336.50,359.29 337.00,359.40 337.50,359.50 338.00,359.58 338.50,359.66 339.00,359.71 339.50,359.75 340.00,359.78 340.50,359.80 341.00,359.81 341.50,359.82 342.00,359.83 342.50,359.84 343.00,359.85 343.50,359.85 344.00,359.86 344.50,359.87 345.00,359.88 345.50,359.88 346.00,359.89 346.50,359.90 347.00,359.90 347.50,359.91 348.00,359.92 348.50,359.92 349.00,359.93 349.50,359.93 350.00,359.94 350.50,359.94 351.00,359.95 351.50,359.96 352.00,359.96 352.50,359.97 353.00,359.97 353.50,359.98 354.00,359.98 354.50,359.99 355.00,359.99 355.50,359.99 356.00,360.00 356.50,360.00 357.00,360.01 357.50,360.01 358.00,360.01 358.50,360.02 359.00,360.02 359.50,360.03 360.00,360.03 360.50,360.03 361.00,360.04 361.50,360.04 362.00,360.04 362.50,360.04 363.00,360.05 363.50,360.05 364.00,360.05 364.50,360.06 365.00,360.06 365.50,360.06 366.00,360.06 366.50,360.07 367.00,360.07 367.50,360.07 368.00,360.07 368.50,360.07 369.00,360.08 369.50,360.08 370.00,360.08 370.50,360.08 371.00,360.08 371.50,360.08 372.00,360.08 372.50,360.09 373.00,360.09 373.50,360.09 374.00,360.09 374.50,360.09 375.00,360.09 375.50,360.09 376.00,360.09 376.50,360.09 377.00,360.10 377.50,360.10 378.00,360.10 378.50,360.10 379.00,360.10 379.50,360.10 380.00,360.10 380.50,360.10 381.00,360.10 381.50,360.10 382.00,360.10 382.50,360.10 383.00,360.10 383.50,360.10 384.00,360.10 384.20,360.10" fill="none" stroke="#1f8f1f" stroke-width="1.4" stroke-linejoin="round" stroke-linecap="round"/>
<line x1="180.95" y1="216.0" x2="384.75" y2="216.0" stroke="#707070" stroke-width="1.4"/>
<line x1="180.95" y1="385.0" x2="384.75" y2="385.0" stroke="#4a4a4a" stroke-width="1.5"/>
<line x1="181.5" y1="215.3" x2="181.5" y2="385.75" stroke="#606060" stroke-width="1.1"/>
<line x1="384.0" y1="215.3" x2="384.0" y2="385.75" stroke="#606060" stroke-width="1.5"/>
<line x1="384.00" y1="385.0" x2="384.00" y2="388.0" stroke="#555" stroke-width="1"/>
<text x="384.00" y="397.9" font-size="9.2" text-anchor="middle" >526</text>
<line x1="369.54" y1="385.0" x2="369.54" y2="386.6" stroke="#555" stroke-width="1"/>
<line x1="355.07" y1="385.0" x2="355.07" y2="388.0" stroke="#555" stroke-width="1"/>
<text x="355.07" y="397.9" font-size="9.2" text-anchor="middle" >528</text>
<line x1="340.61" y1="385.0" x2="340.61" y2="386.6" stroke="#555" stroke-width="1"/>
<line x1="326.14" y1="385.0" x2="326.14" y2="388.0" stroke="#555" stroke-width="1"/>
<text x="326.14" y="397.9" font-size="9.2" text-anchor="middle" >530</text>
<line x1="311.68" y1="385.0" x2="311.68" y2="386.6" stroke="#555" stroke-width="1"/>
<line x1="297.21" y1="385.0" x2="297.21" y2="388.0" stroke="#555" stroke-width="1"/>
<text x="297.21" y="397.9" font-size="9.2" text-anchor="middle" >532</text>
<line x1="282.75" y1="385.0" x2="282.75" y2="386.6" stroke="#555" stroke-width="1"/>
<line x1="268.29" y1="385.0" x2="268.29" y2="388.0" stroke="#555" stroke-width="1"/>
<text x="268.29" y="397.9" font-size="9.2" text-anchor="middle" >534</text>
<line x1="253.82" y1="385.0" x2="253.82" y2="386.6" stroke="#555" stroke-width="1"/>
<line x1="239.36" y1="385.0" x2="239.36" y2="388.0" stroke="#555" stroke-width="1"/>
<text x="239.36" y="397.9" font-size="9.2" text-anchor="middle" >536</text>
<line x1="224.89" y1="385.0" x2="224.89" y2="386.6" stroke="#555" stroke-width="1"/>
<line x1="210.43" y1="385.0" x2="210.43" y2="388.0" stroke="#555" stroke-width="1"/>
<text x="210.43" y="397.9" font-size="9.2" text-anchor="middle" >538</text>
<line x1="195.96" y1="385.0" x2="195.96" y2="386.6" stroke="#555" stroke-width="1"/>
<line x1="181.50" y1="385.0" x2="181.50" y2="388.0" stroke="#555" stroke-width="1"/>
<text x="181.50" y="397.9" font-size="9.2" text-anchor="middle" >540</text>
<line x1="185.1" y1="225.90" x2="208" y2="225.90" stroke="#111" stroke-width="1.5"/>
<text x="210.4" y="229.50" font-size="10.2" text-anchor="start" letter-spacing="0.3">0 A</text>
<line x1="185.1" y1="238.65" x2="208" y2="238.65" stroke="#ff2a2a" stroke-width="1.5"/>
<text x="210.4" y="242.25" font-size="10.2" text-anchor="start" letter-spacing="0.3">12 A</text>
<line x1="185.1" y1="251.40" x2="208" y2="251.40" stroke="#2a2aff" stroke-width="1.5"/>
<text x="210.4" y="255.00" font-size="10.2" text-anchor="start" letter-spacing="0.3">16 A</text>
<line x1="185.1" y1="264.15" x2="208" y2="264.15" stroke="#ff2aff" stroke-width="1.5"/>
<text x="210.4" y="267.75" font-size="10.2" text-anchor="start" letter-spacing="0.3">20 A</text>
<line x1="185.1" y1="276.90" x2="208" y2="276.90" stroke="#4aa64a" stroke-width="1.5"/>
<text x="210.4" y="280.50" font-size="10.2" text-anchor="start" letter-spacing="0.3">24 A</text>
<text x="162.4" y="225.1" font-size="10.3" text-anchor="start" >(c)</text>
<text x="282.95" y="411.6" font-size="10.2" text-anchor="middle" >Binding Energy (eV)</text>
<text x="0" y="0" font-size="11.35" text-anchor="middle" transform="translate(169.9,296.45) rotate(-90)">Intensity (a.u.)</text>
</svg></body></html>
